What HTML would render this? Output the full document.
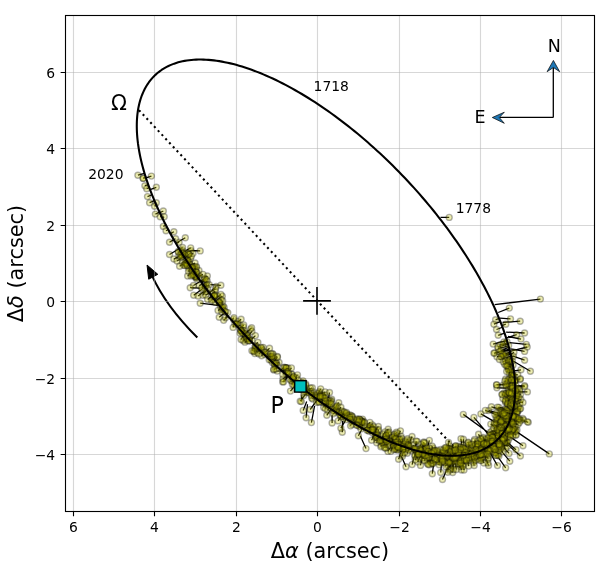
<!DOCTYPE html><html><head><meta charset="utf-8"><style>html,body{margin:0;padding:0;background:#fff}svg{display:block}</style></head><body><svg width="600" height="570" viewBox="0 0 600 570">
<rect width="600" height="570" fill="#fff"/>
<path d="M197.3,337.6 Q165.7,306 151.9,275.4" fill="none" stroke="#000" stroke-width="2.08"/>
<path d="M147.05,265.05 L157.8,274.3 L148.7,279.2 Z" fill="#000" stroke="#000" stroke-width="1" stroke-linejoin="miter"/>
<path d="M73.5,15.5V511.5M154.5,15.5V511.5M236.5,15.5V511.5M317.5,15.5V511.5M399.5,15.5V511.5M480.5,15.5V511.5M561.5,15.5V511.5" stroke="#b0b0b0" stroke-opacity=".5" stroke-width="1.11" fill="none"/>
<path d="M65.5,72.5H594.5M65.5,148.5H594.5M65.5,225.5H594.5M65.5,301.5H594.5M65.5,378.5H594.5M65.5,454.5H594.5" stroke="#b0b0b0" stroke-opacity=".5" stroke-width="1.11" fill="none"/>
<path d="M139.0,110.2 L455.8,448.8" stroke="#000" stroke-width="2.08" stroke-dasharray="2.08 3.44" fill="none"/>
<path d="M493.17,344.07L506.88,340.26M506.48,362.21L512.14,360.88M506.47,357.86L511.1,356.01M503.96,342.06L507.04,340.76M504.32,356.27L510.59,353.79M511.92,376.33L514.44,375.87M508.31,366.55L513.05,365.77M512.17,376.97L514.49,376.32M511.82,373.83L514.36,375.17M508.62,369.59L513.67,369.71M502.67,354.23L510.17,352.09M512.11,375.35L514.37,375.18M494.6,353.01L509.66,350.05M498.2,348.57L508.55,345.94M507.25,366.19L512.78,364.26M509.29,368.91L513.63,369.47M510.58,372.34L514.09,372.84M500.18,344.72L507.73,343.07M509.26,373.35L513.99,372.08M496.92,356.71L510.65,354.07M497.86,346.94L508.02,344.07M510.36,360.79L511.68,358.64M512.12,372.19L514.1,372.92M504.63,364.27L512.14,360.88M510.64,369.84L513.55,368.88M501.68,354.26L510.27,352.47M508.63,345.41L508.41,345.45M498.88,351.82L509.8,350.59M512.76,376.59L514.59,377.36M505.45,360.87L511.72,358.82M513.04,365.06L512.7,363.81M507.65,365.58L512.89,364.86M503.14,361.75L511.63,358.4M506.95,341.71L507.51,342.32M508.34,369.67L513.58,369.14M510.2,359.14L511.57,358.11M506.07,354.02L510.51,353.47M513.98,352.3L510.76,354.51M499.43,359.49L511.23,356.55M511.93,374.98L514.09,372.8M513.63,375.8L514.3,374.63M506.64,371.45L513.78,370.48M513.4,356.44L511.27,356.73M508.63,361.33L512.4,362.19M512.29,361.07L511.99,360.13M503.35,354.74L510.73,354.39M502.85,344.98L507.73,343.09M506.12,365.68L512.68,363.67M517.73,374.75L514.34,374.92M500.81,350.57L508.87,347.09M516.02,398.74L514.77,398.64M512.65,394.04L515.06,394.25M507.75,413.25L511.99,414.16M506.17,409.05L512.98,410.3M510.42,384.99L515.1,385.49M511.01,398.37L514.71,399.3M520.54,394.4L515.12,392.59M508.88,402.64L514.22,403.48M516.44,404.97L513.94,405.32M518.67,407.62L513.74,406.53M515.83,397.98L514.87,397.5M515.01,410.8L512.63,411.76M509.73,378.25L514.64,377.95M508.28,403.12L514.11,404.25M517.89,411.59L513.04,410.02M508.5,398.98L514.75,398.89M505.37,402.16L514.22,403.5M512.76,396.43L514.9,397.03M511.47,409.48L513.05,409.96M504.07,392.85L515.08,393.81M515.14,380.93L514.88,380.93M509.02,412.38L512.38,412.73M507.16,409.69L512.83,410.91M511.44,392.79L515.12,392.76M510.98,396.56L515.01,395.24M505.71,379.05L514.75,379.19M502.29,394.28L515.02,395.03M504.84,408.92L512.78,411.14M503.24,385.04L515.06,384.36M510.49,410.1L513.08,409.84M515.74,394.16L515.1,393.27M511.6,395.3L515.02,395.07M513.18,391.75L515.16,391.02M510.84,403.88L513.83,405.97M512.67,394.75L515.01,395.25M513.03,383.88L515.11,385.6M512.7,414.29L511.98,414.2M506.23,386.05L515.15,387.17M514.72,408.87L513.34,408.62M508.33,395.57L514.94,396.39M513.42,411.76L512.47,412.37M512.25,385.55L515.12,386.12M509.28,410.69L512.57,411.99M513.33,390.76L515.16,390.51M519.9,408.96L513.54,407.59M511.43,392.83L515.08,393.88M512.66,405.89L513.67,406.9M517.34,411.14L512.92,410.52M511.68,406.78L513.81,406.09M520.85,399.53L514.8,398.32M508.69,413.31L511.78,414.88M499.07,407.39L512.99,410.22M506.34,393.22L515.12,392.53M508.8,394.31L515.1,393.33M513.66,412.99L512.48,412.36M519.79,391.09L515.16,391.05M505.51,394.83L515.01,395.33M511.82,407.79L513.37,408.48M513,401.25L514.53,401.09M505.61,393.77L515.11,393M505.86,401.62L514.41,402.07M511.63,389.89L515.13,392.14M508.44,399.99L514.51,401.22M508.74,389.53L515.16,390.39M496.86,387.8L515.16,388.14M519.6,389.61L515.17,389.09M516.86,414.36L512.46,412.43M517.92,407.25L513.73,406.59M511.93,401.82L514.32,402.73M512.3,413.25L512.15,413.61M510.28,395.88L515,395.5M510.14,386.19L515.13,386.28M517.7,397.75L514.9,397.05M497.54,407.11L513.02,410.1M507.64,404.15L514.04,404.68M514.8,381.32L514.91,381.46M515.15,380.05L514.83,380.29M508.92,392.28L515.08,393.77M510.04,406.81L513.63,407.13M516.1,398.34L514.82,398.03M514.8,381.21L514.96,382.29M510.63,405.06L514.11,404.28M516.11,389.53L515.17,389.66M510.72,392.41L515.13,392.18M507.33,384.12L515.08,384.86M509.63,393.29L515.12,392.49M516.91,412L512.73,411.33M519.04,397.32L514.82,398.07M515.52,400.73L514.48,401.45M512.89,387.54L515.16,387.93M507.96,380.91L514.92,381.64M520.6,408.59L513.85,405.88M516.9,395.59L515.01,395.23M515.83,385.1L515.11,385.58M511.35,394.18L515.02,395.11M511.59,404.17L514.06,404.6M517.28,393.5L515.12,392.62M512.27,399.88L514.71,399.32M512.24,380.06L514.83,380.26M509.05,392.44L515.14,391.8M502.86,398.58L514.63,400.15M505.18,400.29L514.44,401.84M507.8,379.92L514.73,379M511.52,379.9L514.78,379.62M507.52,403.8L514.07,404.49M518.01,388.76L515.17,389.55M511.94,385.71L515.1,385.49M507.69,411L512.37,412.77M506.38,410L512.69,411.49M519.95,403.4L514.08,404.48M512.23,388.35L515.13,386.54M510.74,406.07L513.85,405.87M501.66,410.91L512.13,413.68M505.83,384.73L515.09,385.03M504.92,380.96L514.74,379.08M511.11,402.95L514.35,402.53M511.57,393.07L515.11,393.09M512.98,404.5L513.85,405.89M515.55,390.71L515.15,391.54M514.41,405.72L514.03,404.79M511.73,416.75L510.92,417.59M508.84,430.93L505.57,429.22M500.23,438.47L499.42,437.52M507.53,417.95L510.38,419.1M510.93,422.87L508.7,423.23M510.28,420.12L510.08,419.91M503.4,414L511.41,416.11M514.19,419.81L510.6,418.5M496.12,432.07L500.58,436.2M498.81,441.4L497.16,439.85M493.88,433.79L498.79,438.2M505.09,433.74L503.41,432.53M505.58,442.45L499.04,437.93M507.66,431.16L505.2,429.83M489.91,432.45L496.41,440.56M506.83,442.51L500.12,436.73M505.93,426.6L506.53,427.55M504.36,426.05L506.81,427.06M518.06,424.49L509.48,421.41M505.06,443.42L499.47,437.46M507.82,446.22L498.6,438.41M488.7,410.47L510.92,417.58M499.6,432.15L502.3,434.05M503.74,419.09L509.41,421.58M511.76,424.39L508.67,423.29M514.73,417.54L511.39,416.17M509.04,453.38L497.01,439.99M507.06,419.46L509.74,420.78M505.75,441.77L500.37,436.45M507.08,442.25L500.77,435.97M504.87,427.27L506.02,428.46M516.7,417.4L511.35,416.3M507.9,429.38L506.09,428.35M514.53,430.92L507,426.7M500.54,414.74L510.82,417.89M509.05,416.32L510.96,417.46M515.93,426.93L508.48,423.72M502.84,412.25L511.73,415.05M493.97,424.45L503.87,431.87M513.45,417.5L511.1,417.07M508.33,440.35L501.91,434.56M498.28,437.14L499.14,437.82M512.34,427.91L507.78,425.17M504.8,428.66L505.34,429.6M506.41,413.4L511.65,415.32M508.79,416.9L510.62,418.46M495.78,435.95L497.85,439.17M504.65,442.32L499.59,437.33M502.27,416.14L510.56,418.62M511.26,420.52L510.02,420.07M514.55,416.52L511.83,414.72M500.86,434.11L502.03,434.4M509.57,419.84L510.07,419.94M515.64,435.1L505.31,429.64M510.85,417.18L511.14,416.93M497.47,436.04L500.09,436.77M500.94,443.63L496.53,440.45M495.36,433.01L499.69,437.22M501.29,443.87L497.32,439.7M528.31,422.37L511,417.34M512.07,418.07L510.96,417.47M516.22,434.93L505.98,428.52M491.67,431.11L499.11,437.86M503.6,431.2L504.29,431.26M513.4,418.32L510.79,417.98M508.59,427.51L507.37,425.98M508.93,421.72L509.33,421.79M490.8,424.15L503.1,432.97M511.35,423.68L508.62,423.41M496.96,418.07L508.73,423.17M504.23,433.16L503.83,431.94M505.04,436.8L501.88,434.6M500.28,411.19L511.54,415.68M505.73,423.57L507.45,425.83M504.68,433.56L503.76,432.04M502.62,413.89L511.17,416.85M500.8,422.67L507.09,426.53M506.42,415.96L510.96,417.48M503.72,437.54L500.84,435.89M497.79,433.63L500.88,435.84M515.54,421.5L510.28,419.38M500.48,435.32L501.29,435.34M504.25,414.63L511.15,416.9M502.3,418.75L509.37,421.67M496.67,435.25L499.89,437M497.78,433.67L500.61,436.16M512.75,418.37L510.73,418.13M507.6,421.47L509.38,421.66M504.15,432.31L503.2,432.84M503.92,424.51L506.76,427.13M499.74,430.22L503.69,432.14M505.16,426.47L506.08,428.36M497.59,428.26L503.72,432.1M498.99,415.37L510.17,419.68M512.4,420.14L510.16,419.71M497.33,419.47L507.69,425.35M501.08,412.99L511.32,416.39M504.45,437.5L501.4,435.21M501.28,437.49L500.18,436.66M494.55,422.38L506.6,427.43M496.8,421.5L506.8,427.06M513.08,416.93L511.4,416.14M514.81,429.39L507.72,425.29M508.77,433.45L504.53,430.89M503.67,422.13L507.96,424.81M496.02,433.26L500.47,436.33M497.53,429.45L502.81,433.37M517.77,420.61L510.33,419.25M522.73,418.41L511.61,415.46M506.75,428.59L506.61,427.41M508.44,421.61L509.51,421.35M498.15,418.92L508.53,423.59M520.98,420.26L510.98,417.41M495.86,424.84L504.94,430.24M507.06,424.89L507.76,425.21M495.29,436.32L497.8,439.22M517.02,430.1L507.65,425.44M498.73,430.2L502.76,433.44M503.44,440.69L500.12,436.73M496.94,439.98L496.74,440.25M507.3,416.56L510.83,417.87M499.94,427.18L504.87,430.36M515.77,431.13L506.92,426.84M496.31,412.69L510.87,417.74M497.38,441.32L496.17,440.78M499.89,419.53L508.38,423.92M502.35,441.41L499.41,437.53M503.44,424.05L507.11,426.49M507.09,415.64L511.24,416.61M501.8,435.03L501.92,434.55M501.74,420.88L507.97,424.79M495.08,433.44L499.25,437.71M499.72,435.61L500.2,436.64M504.42,442.28L499.31,437.64M503.02,435.59L501.26,435.38M517.72,418.45L511.56,415.62M509.16,430.37L506.23,428.1M493.23,433.49L497.81,439.21M503.42,415.84L510.59,418.54M493.42,436.39L496.7,440.29M509.41,435.13L504.07,431.58M515.69,417.17L511.76,414.94M507.66,425.55L507.77,425.19M523.47,419.73L511.41,416.08M501.47,420.44L508.35,424M499.37,431.88L502.29,434.08M504.03,433.61L503.05,433.04M505.71,448.8L497.78,439.24M504.9,432.84L503.3,432.69M505.47,434.45L503.11,432.97M513.2,428.82L507.23,426.26M501.92,434.05L501.87,434.61M505.16,426.27L506.82,427.03M503.84,416.03L510.88,417.71M495.52,438.32L497,440M513.05,435.4L504.33,431.2M504.4,438.06L501.45,435.14M514.41,427.56L508.3,424.1M506.55,433.36L503.86,431.89M506.15,418.55L510.13,419.77M502.74,433.75L502.92,433.23M500.99,434.17L501.93,434.54M511.03,430.42L506.07,428.37M513.15,429.11L507.72,425.3M496.76,436.25L498.78,438.21M496.07,417.62L507.81,425.11M509.52,428.04L506.74,427.18M511.57,421.88L510.28,419.39M507.12,437.14L502.86,433.31M494.87,414.52L509.58,421.17M505.34,415.54L510.99,417.39M500.69,422.46L507.48,425.77M504.16,438.29L500.52,436.27M498.98,433.34L501.2,435.46M503.07,413.94L511.01,417.31M512.56,415.73L511.48,415.86M503.11,440.33L499.48,437.45M508.14,430.58L505.88,428.71M502.29,430.91L504.11,431.52M513.34,416.56L511.55,415.65M519.4,422.38L510.14,419.76M503.17,438L500.86,435.86M513.04,423.91L509.16,422.18M504.38,412.79L512.05,413.93M494.56,438.26L495.99,440.95M497.18,429.43L503.24,432.78M501.79,439.9L499.85,437.05M507.74,428.12L506.18,428.19M512.14,430.51L506.49,427.63M496.68,438.19L498.03,438.99M492.78,434.52L498.24,438.77M519.11,418.71L511.07,417.15M493.7,428.08L502.21,434.17M502.55,433.6L503.36,432.61M507.48,429.97L506.03,428.45M510.5,437.09L503.57,432.31M510.56,434.78L504.41,431.08M496.85,436.58L498.17,438.85M500.97,427.54L504.81,430.45M509.07,429.29L506.08,428.36M460.94,456.17L460.21,455.41M463.11,445.08L465.41,454.77M456.08,458.53L457.44,455.62M447.01,455.97L447.76,455.72M457.31,456.3L456.91,455.65M471.1,458.24L468.84,454.15M481.43,460.28L477.64,451.72M494.84,441.57L495.53,441.35M472.16,459.05L470.26,453.85M492.81,451.99L488.65,446.48M485.45,439.38L489.55,445.9M449.61,456.54L450.74,455.79M458.12,446.11L458.71,455.54M487.64,446.01L487.94,446.91M453.29,465.54L453.94,455.77M477.51,458.93L474.61,452.71M454.08,457.95L453.62,455.77M459.62,447.2L460.77,455.36M492.94,438.9L494.41,442.32M492.24,440.71L493.37,443.16M450.32,448.62L451.2,455.79M488.19,459.01L483.27,449.41M459.53,452.29L459.19,455.5M491.43,437.27L495.41,441.46M460.53,463.84L459.82,455.45M449.12,470.13L450.02,455.78M498.8,447.93L494.05,442.62M492.83,446.18L491.75,444.39M487.54,444.86L488.14,446.79M491.2,438.38L494.39,442.33M493.73,449.26L490.82,445.05M459.21,457.23L459.43,455.48M474.85,445.13L477.63,451.73M489.95,446.78L488.95,446.28M483.92,462.99L478.55,451.39M498.41,454.2L490.91,444.99M465.21,457.32L464.07,454.97M481,458.41L478.18,451.53M464.82,453.07L464.8,454.86M460.35,460.48L461.05,455.33M460.02,464.55L458.85,455.53M499.25,443.52L496.8,440.19M462.98,453.07L463.31,455.07M449.28,450.26L448.35,455.74M447.93,450.91L447.73,455.72M462.33,451.48L464.21,454.95M451.35,455.91L452.11,455.79M482.23,445.22L484.03,449.04M470.03,444.32L470.89,453.7M490.52,442.66L491.42,444.63M452.69,472.46L451.71,455.79M470.26,451.54L471.06,453.66M499.19,444.83L496.09,440.85M493.35,442.86L493.55,443.02M474.57,439.45L479.57,451.01M483.13,449.9L482.95,449.56M466.08,450.98L466.79,454.54M468.11,442.11L470.01,453.9M457.19,451.25L456.42,455.68M447.07,452.53L447.3,455.7M492.38,436.19L496.17,440.78M467.66,455.59L466.92,454.52M450.84,468.96L449.78,455.77M446.69,462.23L447.8,455.72M465.83,460.02L465.49,454.76M488.69,455.38L485.44,448.32M451.01,458.35L450.08,455.78M482.89,438.46L488.27,446.71M453.63,469.56L452.72,455.79M500.03,448.95L494.58,442.18M449.7,459.47L450.47,455.78M482.43,454.4L481.39,450.26M448.25,461.32L447.62,455.71M447.46,456.72L446.36,455.65M490.63,439.11L493.56,443.01M477.43,451.53L477.27,451.86M488.38,446.65L488.41,446.62M448.78,451.7L447.51,455.71M490.82,435.53L496.21,440.74M494.8,449.08L491.88,444.3M470.15,450.81L470.59,453.77M496.2,446.58L493.63,442.96M475.39,456.33L475.13,452.55M452.16,459.51L451.36,455.79M485.87,446.81L486.34,447.83M477.9,450.25L478.1,451.56M477.47,444.57L480.16,450.77M448.14,461.34L448.72,455.75M449.03,448.59L448.89,455.75M481.12,457.71L479.52,451.02M482.59,448.47L483.5,449.3M478.71,449.19L479.62,450.99M462.87,456.59L462.68,455.15M483.01,442.44L486.32,447.84M501.49,447.85L495.65,441.25M492.8,443.36L493.44,443.11M481.62,443.09L484.3,448.9M457.81,453.47L458.03,455.59M454.18,457.3L453.96,455.77M491.61,443.55L492.11,444.12M463.38,439.24L464.98,454.84M448.91,448.63L448.32,455.74M490.88,434.46L496.41,440.56M489.76,440.09L493.27,443.24M449.2,458.41L449.18,455.76M452.3,462.11L452.31,455.79M493,440.98L493.49,443.07M487.58,449.55L486.61,447.68M492.58,447.34L490.95,444.96M465.21,449.55L466.63,454.57M464.79,460.02L463.47,455.05M478.58,445.51L480.33,450.7M455.45,445.85L455.31,455.73M496.05,455.41L490.3,445.41M495.75,448.11L493.36,443.17M475.42,444.88L478.45,451.43M462.59,453.51L462.14,455.22M496.4,444.57L494.64,442.13M484.04,453.01L481.97,450M472.56,455.69L472.71,453.24M480.33,452.12L480.49,450.64M501.38,446.92L495.76,441.15M491.91,437.06L495.94,440.99M465.02,455.74L464.09,454.97M495.32,441.51L495.83,441.09M456.66,454.12L458.09,455.58M485.67,445.69L487.22,447.34M483.13,449.75L483.59,449.25M460.13,466.58L459.9,455.44M472.54,456.46L470.86,453.71M491.02,441.72L492.33,443.96M495.38,450.18L491.44,444.61M469.71,453.34L469.55,454M464.87,455.8L464.71,454.88M460.25,461.79L460.07,455.43M474.06,460.96L472.3,453.35M457.37,463.77L456.37,455.68M474.45,450.3L474.65,452.7M450.24,452.57L449.01,455.76M472.33,451.92L472.59,453.27M500.39,444.72L496.02,440.92M462.07,465.17L461.53,455.28M497.76,455.02L490.78,445.08M455.09,453.11L455.35,455.73M497.34,441.59L496.53,440.45M488.56,452.17L485.56,448.25M494.01,448.6L490.82,445.05M449.52,445.8L448.04,455.73M494.76,442.85L494.18,442.51M455.26,447L455.35,455.73M448.38,462.33L449.07,455.76M498.96,456.08L490.15,445.51M475.82,460.33L474.35,452.78M465.18,457.63L463.81,455.01M485.75,452.63L483.92,449.09M487.65,446.29L487.22,447.33M453.15,459.48L452.47,455.79M464.59,463.75L462.41,455.18M446.8,465.03L447.53,455.71M492.48,437.49L496.14,440.81M466.87,461.71L464.74,454.87M449.02,461.57L450.09,455.78M482.02,442.98L485.77,448.14M452.74,456.46L453.02,455.78M474.96,446L477.05,451.93M472.22,455.21L472.54,453.29M467.04,458.21L465.59,454.74M447.88,457.13L448.44,455.74M455.62,455.73L454.59,455.75M460.97,438.8L463.53,455.04M450.01,449.07L449.74,455.77M489.74,441.76L491.69,444.43M488.9,438.71L493.11,443.37M483.18,437.48L488.87,446.34M476.8,451.69L476.41,452.15M491.16,448.54L489.02,446.24M484.64,454.44L481.7,450.12M496.79,441.23L495.6,441.3M488.07,458.2L483.31,449.39M488.58,465.41L482.28,449.87M488.73,450.1L486.9,447.52M453.52,460.94L454.23,455.76M490.31,439.42L493.16,443.33M486.45,453.79L483.87,449.12M474.28,440.96L477.87,451.64M491.81,447.64L489.58,445.88M490.53,443.88L492.27,444M465.93,454.56L466.42,454.61M455.88,449.1L456.55,455.67M456.65,461.14L455.7,455.71M447.31,460.4L447.33,455.7M468.67,453.88L468.24,454.27M484.78,446.27L487.05,447.43M445.83,466.64L445.22,455.59M479.79,450.85L479.45,451.05M502.6,451.8L495,441.82M485.29,445.19L488.09,446.82M447.28,456.22L446.05,455.64M472.5,455.86L471.83,453.47M461.46,469.99L458.54,455.55M486.68,444.73L487.51,447.16M483.07,453.89L481.15,450.36M465.01,448.98L465.78,454.71M468.13,447.76L469.41,454.03M489.2,435.2L494.98,441.83M446.97,451.8L447.86,455.72M456.8,452.52L457.16,455.64M478.56,434.3L485.19,448.45M477.33,444.25L480.33,450.7M458.19,449.05L458.96,455.52M472.18,457.28L471.76,453.49M448.73,458.19L448.91,455.75M468.49,454.37L469.23,454.07M452.51,456.65L452.54,455.79M447.83,472.18L448.19,455.73M494.24,440.36L494.71,442.07M478.59,445.78L481.28,450.31M474.02,458.28L473.68,452.98M496.5,446.41L493.22,443.28M491.25,441.45L492.48,443.85M490.58,441.6L492.6,443.76M446.43,455.98L446.22,455.65M462.19,455.9L461.35,455.3M482.7,456.88L480.53,450.62M448.35,450.61L446.75,455.67M461.87,450.53L463.03,455.11M451.45,452.57L451.95,455.79M498.3,445.1L494.86,441.94M495.25,452.47L490.9,445M487.91,438.07L492.04,444.18M468.57,444.9L469.81,453.94M473.52,462.71L472.25,453.36M469.24,459.97L468.07,454.3M447.13,453.42L448.32,455.74M463.99,470.12L461.79,455.25M455.89,445.89L456.04,455.7M480.46,454.93L479.42,451.06M492.18,446.06L491.75,444.39M460.99,447.47L462.35,455.19M485.63,447.69L485.89,448.08M451.37,449.91L450.32,455.78M493.51,446.16L491.96,444.23M464.47,459.39L463.75,455.01M466.66,449.58L468.34,454.25M459.42,463.71L459.55,455.47M452.19,457.21L452.51,455.79M486.7,444.56L489.08,446.21M453.39,453.76L451.88,455.79M458.59,453.19L458.78,455.53M463.08,466.3L461.74,455.26M481.36,439.72L486.07,447.98M492.57,437.44L495.08,441.75M474.79,451.62L474.84,452.64M468.7,466.07L467.63,454.39M457.28,456.19L457.16,455.64M481.6,444.57L483.25,449.42M486.87,443.05L488.2,446.75M449.21,461.74L450,455.78M464.42,448.89L466.11,454.66M494.77,452.96L489.83,445.72M471.59,448.18L473.68,452.98M448.5,442.47L447.84,455.72M448.05,448.68L448.93,455.75M458.79,454.83L456.91,455.65M463.09,447.73L463.72,455.02M492.33,441.39L494.53,442.22M476.6,456.01L475.26,452.51M483.76,453.83L482.38,449.82M480.29,449.1L480.18,450.76M465.03,452.26L464.72,454.88M479.23,450.67L479.56,451.01M476.75,447.2L478.07,451.57M493.37,446.21L492.33,443.96M456.55,456.31L457.43,455.62M454.12,450.45L455.09,455.73M478.63,440.72L481.91,450.03M471.8,453.87L471.32,453.6M460.76,459.97L461.07,455.33M481.03,448.49L482.72,449.67M499.17,446.28L495.29,441.57M481.35,441.61L485.15,448.47M480.67,438.63L485.68,448.19M465.78,455.69L465.98,454.68M464.63,460.37L463.94,454.99M452.94,458.3L451.95,455.79M463.48,455.68L463.23,455.08M468.27,442.99L470.48,453.79M480.32,460.46L477.65,451.72M477.68,443.85L480.49,450.64M496,455.4L490.35,445.37M505.66,467.86L489.94,445.65M468.66,457.81L469.73,453.96M447.3,456.73L448.44,455.74M449.57,451.63L450.25,455.78M490.79,448.43L489.51,445.93M472.03,444.34L475.4,452.47M498.81,450.61L492.94,443.5M458.45,452.98L458.73,455.54M474.19,465.56L471.65,453.52M478.23,451.51L479.05,451.21M476.04,449.69L477.28,451.85M460.3,449.54L460.86,455.35M479.89,455.12L478.48,451.42M449.2,463.03L449.22,455.76M454.51,458.28L454.12,455.76M455.4,450.13L455,455.74M493.76,448.32L491.36,444.67M488.07,450.92L486.97,447.48M481.29,450.3L481.53,450.2M499.35,444.09L496.33,440.63M447.32,455.54L447.21,455.69M490.05,450.63L487.89,446.94M483.73,443.83L486.32,447.84M494.96,449.38L491.7,444.43M456.34,469.55L454.18,455.76M460.69,463.07L459.55,455.47M487.57,454.18L484.45,448.83M455.65,457.4L455.73,455.71M481.04,454.54L478.9,451.27M466.53,460.26L464.65,454.89M376.42,434.29L375.4,434.95M425.96,453.04L426.79,453.1M424.33,452.5L425.11,452.75M426.23,446.69L424.89,452.7M423.65,453.25L423.31,452.35M442.76,455.14L442.8,455.42M439.31,461.2L439.78,455.13M400.04,442.13L399.23,445.14M419.64,449.32L418.01,451.06M388.15,429.29L384.08,438.98M414.97,450.11L415.47,450.38M393.51,445.41L393.09,442.78M376.69,442.77L378.88,436.61M421.09,454.64L422.18,452.09M388.94,434.73L386.13,439.88M440.62,456.33L441.29,455.28M440.13,456.4L440.82,455.24M396.42,432.09L391.95,442.32M417.3,441.56L414.09,449.99M422.47,446.81L421.31,451.89M392.89,435.27L389.65,441.38M400.13,445.64L401.04,445.79M419.92,458.23L421.05,451.82M422.69,449.48L421.9,452.03M395.56,444.86L393.26,442.85M443.66,453.01L442.77,455.42M440.5,457.44L440.05,455.16M377.92,434.84L378.22,436.3M436.76,451.81L434.9,454.52M412.1,448.74L413.08,449.7M419.43,458.65L420.58,451.71M416.79,452.16L417.46,450.91M402.1,447.81L403.82,446.76M412.04,436.43L407.61,448.02M402.51,456.23L403.49,446.65M394.48,446.3L394.46,443.32M421.11,449.74L419.84,451.53M386.11,447.82L388.87,441.05M401.49,443.75L401.05,445.8M387.71,439.21L386.66,440.11M441.87,462.41L441.54,455.31M408.74,442.78L406.51,447.67M433.05,448.03L432.9,454.21M399.65,440.14L398.16,444.74M394.63,445.83L396.51,444.12M382.56,435.9L382.51,438.28M402.2,446.66L401.8,446.06M398.31,448.85L399,445.05M394.64,434.14L390.58,441.76M411.58,450.5L411.65,449.28M444.49,456.8L445.3,455.6M445.81,457.51L446.33,455.65M431.91,463.76L432.85,454.2M408.51,446.03L410.15,448.83M439.39,454.13L438.21,454.95M386.36,436.48L383.21,438.6M424.55,455.05L423.99,452.5M437.33,454.25L436.64,454.76M378.23,430.73L374.53,434.53M422.18,448.83L418.75,451.25M396.98,448.13L399.09,445.08M436.95,451.48L436.78,454.78M432.06,463.25L432.69,454.18M432.89,451.96L431.28,453.94M424.78,460.01L426.53,453.05M436.24,461.91L436.61,454.75M401.76,442.72L400.74,445.68M376.67,439.85L378.8,436.57M399.15,447.64L400.94,445.76M398.03,444.85L398.17,444.74M432.24,446.12L431.73,454.02M396.56,438.3L394.22,443.23M375.66,437.26L376.76,435.61M381.37,445.43L384.47,439.15M444.54,452.18L444.31,455.53M376.67,436.86L376.25,435.37M387.94,451.42L393.44,442.92M398.01,449.88L399.92,445.39M401.02,436.29L396.8,444.23M439.84,457.64L439.96,455.15M440.7,462.5L441.94,455.34M434.71,452.81L435.87,454.65M409.24,446.36L408.49,448.31M387.5,440.39L388.07,440.72M445.34,449.97L444.22,455.53M429.33,440.41L426.23,452.98M392.42,437.54L388.37,440.84M384.98,431.83L382.76,438.39M427.68,451.91L426.41,453.02M434.01,450.17L433.37,454.29M426.34,450.68L426.29,453M403.28,448.74L405.24,447.25M442.04,453.07L441.97,455.35M438.8,461.56L440.31,455.19M375.32,435.85L377.88,436.14M424.46,455.6L426.22,452.98M397.05,449.91L398.48,444.86M437.33,455.89L438.03,454.93M400.89,444.48L398.24,444.77M403.69,444.77L403.16,446.54M446.18,448.59L446.44,455.66M406.79,440.22L405.04,447.18M385.49,447.69L389.36,441.26M433.21,452.31L431.56,453.99M427.43,451.69L426.53,453.05M435.29,450.59L432.98,454.22M414.98,456.14L416.9,450.77M440.74,449.52L440.25,455.18M390.94,451.33L394.08,443.17M402.63,448.22L404.33,446.94M427.46,454.7L429.59,453.64M423.02,458.04L422.31,452.12M395.5,443.86L395.54,443.74M405.38,442.72L404.88,447.13M396.79,446.43L396.29,444.03M401.8,438.52L398.97,445.04M417.72,454.32L417.46,450.92M395.03,447.72L397.36,444.44M443.44,458.82L443.79,455.49M420.57,444.41L419.4,451.42M394.17,436.6L392.68,442.62M404.54,448.24L405.68,447.39M430.41,460.64L433.86,454.36M399.85,448.25L401.36,445.91M399.98,439.26L398.07,444.71M445.73,455.11L445.68,455.62M407.31,453.19L409.16,448.52M425.25,450.7L425.18,452.76M397.16,433.41L394.76,443.44M444.22,451.52L444.35,455.53M383.24,444.04L385.56,439.63M393.88,449.77L396.95,444.28M423.65,454.76L423.08,452.3M428.72,457.4L431.03,453.9M414.95,455.14L415.7,450.44M439.55,457.87L439.59,455.11M383.51,434L382.13,438.11M381.73,442.36L383.07,438.53M423.62,455.24L425.42,452.81M427.43,463.44L430.3,453.77M437.39,450.21L437.62,454.88M383.38,441.28L384.28,439.07M441.49,458.46L441.52,455.31M378.32,426.52L373.78,434.16M427.79,451.64L427.6,453.26M394.93,448.99L397.57,444.52M385.01,438.57L385.38,439.56M444.87,462.44L445.5,455.61M417.83,461.99L421.69,451.97M435.48,459.8L435.05,454.54M386.26,435.59L384.2,439.04M419.66,448.44L419.67,451.48M421.83,453.05L421.53,451.94M432.05,457.27L433.11,454.24M400.45,430.82L394.56,443.36M397.53,442.13L397.22,444.39M376.19,437.51L377.22,435.83M418.32,451.42L419.72,451.49M397.45,446.08L399.65,445.29M390,445.83L392.81,442.67M398.38,444.5L397.88,444.63M377.1,435.17L376.54,435.51M429.07,456.89L429.31,453.59M405.72,448.8L406.81,447.77M442.57,456.44L441.94,455.34M416.82,451.44L417.09,450.82M395.61,438.71L393.89,443.1M425.56,451.61L424.64,452.65M439.1,464.86L439.24,455.07M403.57,446.45L403.27,446.58M404.51,448.8L403.38,446.62M378.5,429.52L376.45,435.46M380.81,446.69L384.39,439.12M410.86,440.22L408.79,448.4M376.04,432.35L375.39,434.95M415.2,459.97L418.17,451.1M433.38,450.87L433.26,454.27M419.86,449.37L420.47,451.68M388.76,442.13L390.66,441.8M402.34,454.36L406.62,447.7M441.95,459.51L441.39,455.29M423.88,441.88L422.61,452.19M397.82,446.57L399.63,445.28M428.18,454.78L427.98,453.34M384.87,439.46L385.01,439.39M442.6,461.22L443.42,455.47M425.42,448.94L423.27,452.34M413.43,444.73L411.86,449.34M429.08,447.85L427.45,453.23M426.51,447.93L425.48,452.83M395.64,442.35L395.92,443.89M405.45,441.55L403.44,446.64M382.96,442.43L386.25,439.93M414.94,449.16L414.9,450.22M403,449.09L403.73,446.73M436.12,459.64L435.77,454.64M429.4,464.68L431.74,454.02M388.98,431.95L386.14,439.88M404.43,452.67L405.33,447.28M420.67,450.74L420.12,451.59M408.42,444.96L408.16,448.2M385.51,439.66L386.76,440.15M398.05,447.46L397.67,444.56M393.46,445.06L392.24,442.44M428.29,451.44L427.51,453.24M389.61,441.28L390.07,441.55M434.69,458.9L435.62,454.62M415.91,448.88L415.64,450.42M426.95,457.86L426.36,453.01M414.16,448.58L415.42,450.37M380.88,440.28L382.57,438.31M442.82,450.17L443.59,455.48M432.8,463.75L435.18,454.56M431.5,453.12L432.56,454.16M387.61,444.36L388.67,440.97M424.26,460.87L426.23,452.98M425.29,455.79L426.71,453.08M416.2,441.08L414.1,449.99M424.82,443.03L423.39,452.37M423.75,442.67L421.21,451.86M418.39,454.82L420.62,451.72M444.77,448.03L443.28,455.46M422.86,453.74L423.96,452.5M445.99,447.35L445.37,455.6M386.28,439.35L384.62,439.22M379.49,440.74L380.55,437.39M386.05,435.67L384.85,439.32M418.62,453.95L419.12,451.34M386.63,441.23L387.61,440.52M408.53,450.18L411.2,449.14M361.61,421.97L359.54,426.71M371.16,428.01L370.68,432.62M346.38,419.64L345.67,418.6M361.85,422.2L359.66,426.78M341.18,416.83L341.66,416.1M331.69,399.27L325.44,405.32M318.29,397.38L316.07,398.59M326.35,402.29L324.77,404.85M314.82,395.18L312.28,395.77M352.22,416.14L351.53,422.13M361.93,422.02L357.97,425.83M334.37,407.91L333.51,410.82M352.24,424.43L352.9,422.92M323.62,402.55L323.72,404.11M324.81,398.58L319.8,401.32M339.63,412.96L337.65,413.54M373.54,429.69L373.42,433.99M353.64,420.23L352.69,422.81M362.55,419.09L358.17,425.94M329.33,400.15L325.85,405.6M319.78,393.15L316.9,399.2M323.67,407.42L324.71,404.81M327.74,410.43L329.12,407.86M336.33,406.9L334.89,411.73M331.41,400.72L327.03,406.42M370.6,427.35L368.45,431.48M317.75,393.26L315.87,398.45M322.94,395.9L320.23,401.62M341.79,411.54L339.2,414.53M312.6,399.09L314.83,397.68M368.89,431.32L369.45,431.99M372.64,433.06L372.53,433.55M322.37,402.52L321.74,402.71M363.83,421.48L361.02,427.53M361.91,421.38L360.21,427.08M314.99,396.33L314.97,397.78M322.41,395.29L320.09,401.52M338.67,412.04L337.22,413.26M372.75,428.89L373.58,434.06M334.69,412.27L334.08,411.2M333.28,410.5L330.46,408.77M360.91,428.96L360.73,427.36M347.58,415.24L345.92,418.75M359.62,424.82L359.12,426.47M351.7,415.84L350.09,421.27M345.3,413.49L343,416.94M360.25,420.01L356.14,424.8M315.77,394.86L312.21,395.72M317.2,397.74L315.89,398.46M368.99,426.97L364.99,429.67M312.99,391.63L312.71,396.09M325.26,402.45L323.5,403.95M356.6,420.05L355.15,424.23M348.42,415.01L344.96,418.16M328.37,404.77L327.72,406.9M361.55,424.9L360.54,427.26M341.03,416.62L341.46,415.97M320.96,395.04L318.46,400.34M330.72,401.74L327.24,406.57M311.67,398.12L312.4,395.86M342.57,411.18L339.19,414.53M346.43,413.65L343.4,417.19M319.47,391.51L315.9,398.47M343.27,418.29L343.1,417.01M350.12,415.03L346.79,419.28M372.43,424.87L368.26,431.38M310.43,392.61L309.03,393.3M359.31,426.4L358.52,426.14M361.68,420.86L357.62,425.64M366.97,426.18L364.61,429.47M369.93,422.42L364.97,429.65M308.38,391.65L308.06,392.56M320.65,388.83L315.37,398.07M344.37,416.85L346.12,418.87M345.24,416.19L343.31,417.14M353.95,419.51L353.29,423.15M329.97,407.6L330.55,408.83M320.19,395.57L316.23,398.71M338.72,402.73L332.92,410.43M322.56,397.2L319.88,401.37M359.1,419.04L356.01,424.72M334.19,408.86L331.51,409.48M311.49,395.5L311.52,395.2M316.55,402.42L316.68,399.04M324.01,397.81L321.87,402.8M364.94,427.24L365.79,430.09M311.33,392.03L309.55,393.7M350.58,425.85L351.55,422.14M362.09,422L358.68,426.23M347.28,415.94L345.68,418.61M357.58,420.23L356.3,424.89M325.12,391.9L319.58,401.15M370.04,426L368.68,431.6M357.18,424.99L357.19,425.39M320.69,396.79L318.62,400.46M356.9,418.87L353.62,423.35M325.12,394.91L321.64,402.63M359.46,419.47L358.92,426.36M336.66,410.35L336.04,412.49M371.04,430.45L368.78,431.65M320.12,398.56L319.41,401.03M373.64,426.69L372.54,433.55M358.53,421.73L355.97,424.7M319.36,401.67L319.65,401.21M352.03,417.11L348.22,420.15M349.78,417.26L347.17,419.52M312.29,387.68L306.56,391.39M344.25,411.85L341.11,415.75M327.7,400.81L324.78,404.85M335.86,406.77L332.29,410.01M372.68,429.43L370.63,432.59M325.37,401.4L323.97,404.29M349.95,419.34L350.37,421.43M325.3,408.79L325.47,405.34M337.14,405.63L333.44,410.78M322.21,396.22L320.76,402.01M367.93,430.1L366.82,430.63M308.7,392.89L307.86,392.4M329.54,403.45L326.61,406.14M331.31,403.87L329.28,407.97M318.84,402.32L319.09,400.8M324.77,398.1L321.14,402.27M320.19,396.51L318.35,400.27M372.03,430.05L370.31,432.43M356.61,425.37L356.64,425.08M346.47,412.54L345.2,418.31M333.27,413.76L335.71,412.27M339.78,414.86L339.65,414.82M366.89,430.29L366.86,430.65M364.6,422.71L360.85,427.43M271.5,357.14L268.82,358.99M305.97,387.75L305.32,390.43M267.27,353.31L264.02,354.4M279.1,362.49L274.76,364.52M261.63,355.74L263.5,353.9M242.19,330.23L242.13,332M306.65,390.96L306.25,391.15M288.06,368.01L283.62,372.45M304.98,387.9L303.4,388.92M240.12,325.4L237.21,326.6M245.74,339.51L246.38,336.55M257.89,342.37L254.75,345.23M242.66,333.04L243.92,333.93M291.61,374.42L290.09,378.02M270.97,360.21L269.67,359.8M253.44,351.28L257.06,347.55M269.33,356.62L267.41,357.66M300.73,389.35L300.63,386.71M299.66,387.05L298.42,384.93M245.53,333.76L244.74,334.8M255.45,345.6L253.92,344.38M246.69,335.65L246.74,336.93M282.66,381.88L288.1,376.33M276.55,363.07L274.79,364.54M295.25,381.83L293.5,380.89M289.71,379.13L290.42,378.31M265.82,352.09L263.36,353.76M272.33,353.48L269.14,359.29M243.46,327.06L240.54,330.27M284.24,367.13L280.87,370.03M292.17,374.52L289.41,377.45M302.22,383.11L299.4,385.73M233.57,319.42L232.16,320.91M310.34,388.03L307.19,391.88M243.05,340.62L248,338.26M249.14,338.44L249.17,339.48M244.7,333.34L244.26,334.29M296.04,383.7L297.99,384.58M277.38,356.32L270.44,360.52M270.73,356.9L267.82,358.04M262.1,349.38L260.11,350.58M269.16,359.66L269.32,359.47M292.73,378.23L292.09,379.71M273.24,354.35L267.33,357.58M285.92,367.58L282.1,371.12M251.94,331.39L247.16,337.38M292.32,381.16L291.24,379M257.48,352.89L259.62,350.1M263.21,347.37L259.48,349.96M302.98,382.53L299.74,386M254.84,353.62L257.63,348.12M274.99,363.13L274.66,364.42M273.04,358.25L271.66,361.65M248.53,338.56L247.98,338.23M303.1,384.66L301.28,387.23M285.66,367.7L282.41,371.39M246.1,336.94L245.27,335.37M272.3,362.42L270.95,360.99M243.36,333.6L243.24,333.2M301.5,386.94L301.99,387.8M300.4,384.38L301,387.01M244.25,330.74L242.15,332.02M274.91,365.36L273.72,363.56M296.29,377.52L295.2,382.3M283.76,367.76L283.26,372.14M303.1,380.83L299.84,386.08M244.87,342.15L249.39,339.71M286.44,368L284.61,373.32M277.19,365.36L277.17,366.71M237.54,323.66L235.01,324.14M247.91,340.65L249.4,339.73M246.9,338.38L248.83,339.12M252.05,340.34L251.33,341.72M297.91,379.73L296.95,383.73M256.44,346.47L257.04,347.53M249.12,341.03L249.23,339.55M237.78,321.5L233.15,322.03M234.81,324.09L234.31,323.35M264.71,354.44L265.18,355.52M236.13,324.01L234.32,323.36M290.97,380.65L291.45,379.18M286.95,371.95L285.37,373.98M239.87,328.86L239.2,328.8M295.01,383.54L295.32,382.4M273.68,370.09L277.56,367.06M260.99,348.15L257.03,347.52M293.27,376.58L291.77,379.44M292.34,384.31L294.32,381.57M241.01,339.54L244.36,334.4M286.34,373.38L287.03,375.41M282.97,378.91L287.49,375.81M257.93,348.02L259.88,350.35M305.72,383.94L303.04,388.64M293.87,385.58L295.58,382.61M243.71,324.91L239.1,328.69M299.99,383.85L299.63,385.92M277.23,371.11L281.8,370.85M255.01,347.21L256.58,347.07M272.73,356.28L269.89,360M233.09,327.39L234.55,323.62M288.17,371.66L284.89,373.56M270.9,353.64L266.67,356.95M233.97,317.71L231.3,319.92M293.18,378.88L292.43,380M240.89,331.01L241.25,331.04M275.9,363.26L275.94,365.59M255.45,348.64L257.55,348.04M249.53,340.59L250.24,340.6M288.39,373.54L287.77,376.05M300,388.92L301.78,387.63M247.75,335.59L245.93,336.07M261.33,347.56L258.93,349.42M306.59,392.62L305.75,390.77M277.48,357.25L272.76,362.67M254.09,351.47L258.17,348.66M274.3,363.92L274.01,363.82M275.59,369.04L277.45,366.97M264.56,352.29L261.5,351.95M250.48,329.2L243.81,333.81M241.87,332.08L240.03,329.72M305.74,385.24L303.83,389.26M273.76,369.25L277.24,366.78M301.94,387.98L302.12,387.91M303.63,395.43L308.14,392.62M240.16,333.17L240.9,330.67M301.81,382.93L300.6,386.69M293.42,377.04L290.14,378.07M240.83,330.62L240.65,330.39M282.77,374.43L284.08,372.86M304.05,391.77L305.23,390.36M188.65,263.16L188.82,264.16M202.65,295.32L206.83,289.71M196.21,277.33L197.63,277.08M222.31,307.5L221.59,308.46M182.7,252.82L181.75,253.08M196.11,267.31L193.33,270.89M188.97,268.7L191.72,268.51M222.03,309.39L221.63,308.51M205.65,295.15L209.05,292.65M192.82,275.51L196.37,275.29M223.67,320.34L228.17,316.3M187.65,276.06L193.85,271.65M222.3,296.13L215.71,301.2M212.56,299.7L212.83,297.55M189.83,264.26L191.12,267.62M207.64,299.54L211.72,296.12M194.24,274.8L194.7,272.89M193.42,285.54L200.6,281.26M195.51,277.5L196.21,275.06M187.55,262.27L188.01,262.91M194.96,268.72L194.3,272.3M196.72,279L197.59,277.02M219.43,302.25L219.05,305.36M202.26,289.52L202.97,284.51M205.63,285.75L203.79,285.64M186.91,265.45L189.05,264.5M199.28,285.57L202.39,283.72M184.63,263.73L187.36,261.93M223.14,305.88L220.47,307.1M207.2,281L203.31,284.98M218.03,310.41L221.2,307.99M209.21,284.8L204.86,287.08M219.22,317.31L224.94,312.48M220.25,305.93L220.68,307.36M214.43,295.56L211.86,296.3M191.63,268.65L191.13,267.64M179,255.76L181.23,252.23M199.47,276.72L197.84,277.38M221.79,311.85L223.97,311.33M195.03,263.06L189.66,265.43M190.55,268.31L190.52,266.72M222.71,300.91L218.15,304.25M222.3,307.69L220.15,306.7M204.98,278.76L201.72,282.8M196.54,277.1L198.11,277.76M181.91,249.6L180.52,251.08M198.76,274.94L196.52,275.5M215.13,291.3L211.13,295.36M211.29,292.92L210.04,293.94M184.23,251.9L182.19,253.78M178.23,251.39L180.37,250.82M190.98,250.65L182.65,254.52M206.76,284.74L203.51,285.26M186.2,259.39L187.02,261.4M192.97,253.38L185.94,259.72M225.5,317.78L227.12,315.07M207.63,288.96L205.16,287.48M215.3,302.27L214.72,299.95M194.31,266.84L191.03,267.49M198.96,270.51L195,273.31M192.61,267.77L191.14,267.65M224.17,307.38L220.83,307.54M182.4,262.54L186.34,260.35M196.04,275.84L196.26,275.12M214.8,296.73L212.2,296.74M219.63,303.14L218.57,304.77M217.18,295.73L214.29,299.41M189.21,261.89L188.46,263.61M196.54,266.72L191.74,268.54M187.74,253.11L183.77,256.32M183.76,265.25L187.25,261.75M190.45,258.51L187.92,262.78M188.76,254.39L184.5,257.48M182.6,256.6L182.98,255.05M195.25,276.35L196.69,275.75M211.56,300.64L212.65,297.31M214.62,295.15L213.58,298.51M184.68,265.57L188.75,264.05M191.87,268.78L192.02,268.95M221.21,299.65L218.53,304.71M204.44,278.92L200.9,281.66M216.16,286.46L209.39,293.09M207.34,275.93L200.72,281.41M215.54,289.08L208.95,292.52M214.11,296.04L213.09,297.87M188.45,271.34L192.11,269.09M180.62,251.04L180.81,251.55M196.76,272.38L194.81,273.04M227.77,312.61L226.78,314.66M192.03,274.65L194.46,272.53M186.02,263.37L188.33,263.41M192.24,267.16L190.79,267.13M206.01,291.47L206.42,289.17M196.11,271.94L194.25,272.22M192.2,271.19L192.78,270.08M206.18,279.44L201.85,282.98M182.57,253.02L182.28,253.94M202.95,274.33L197.69,277.17M182.07,255.77L183.13,255.29M178.49,252.22L180.52,251.07M224.32,310.97L223.41,310.66M187.12,264.97L188.69,263.95M180.77,254.86L181.6,252.83M218.93,301.96L218.27,304.39M225.65,311.86L224.23,311.64M201.69,287.97L204.64,286.78M193.51,274.58L195.42,273.92M180.54,257.5L183.46,255.82M173.84,259.05L182.61,254.47M188.78,254.09L184.99,258.24M449.2,217.4L440.5,217.4M540.4,299.1L494.7,304.6M509.3,308.1L498.2,312.5M510.5,318.9L500,318.1M520.2,321.2L502.6,322.5M495.6,319.8L499.09,318.44M493.9,324.2L500.39,321.72M505.8,324.2L501.89,325.63M496.5,329.5L502.49,327.25M524.6,333L506.1,332.1M516.7,334.7L506.17,337.97M498.2,335.3L504.6,333.2M521,339.1L507.9,336.5M526.3,344.4L509.6,342.6M527.2,347L509.98,351.33M524.6,351.4L510.5,348.8M493.9,353.2L509.43,349.19M500.9,356.7L510.72,354.36M524.6,360.2L512.3,355.8M530.4,371.2L513.2,361M521,369.8L513.82,370.77M520.2,379.5L514.81,379.95M524.6,385.6L515.12,385.84M496.5,384.7L515.04,383.86M463.3,414.4L487.9,432.3M473.9,417.4L494.84,441.96M480.9,413.9L506.06,428.4M485.3,410.4L510.09,419.89M491.4,406.8L507.2,411.2M496.7,384.9L515.05,384.12M501.9,394.6L515.01,395.33M520.4,378.8L514.75,379.27M524.7,386.7L515.14,386.9M527.4,391.9L515.14,391.68M523,402.5L514.47,401.53M527.4,421.8L511.27,416.54M523,445.8L503.58,432.3M520.4,456L499.6,437.32M516,449.8L500.38,436.44M509.8,461.2L494.24,442.46M497.5,465.6L487.02,447.45M487.9,463L482.07,449.96M549.3,453.9L507.5,425.5M398.6,459.3L403.06,446.5M406,466.8L400.4,454M412.1,464.6L415.94,450.51M420.5,465.4L423.4,452.37M428.1,464.6L430.11,453.74M432.3,473.7L435.02,454.53M440.7,472.5L442.18,455.37M442.5,479.5L448.6,465.4M407.4,438.8L404.57,447.02M388.1,433L385.21,439.48M301.4,401.6L301.9,394.6M303.2,410.4L306.7,401.6M306.1,417.7L307.5,404.2M311.4,422.6L314.6,406M310.2,409.5L317.38,399.55M329.5,392.5L328.6,398M326.8,415.3L330.91,409.08M332.1,423L332.1,414.7M340.9,407.2L337.01,413.12M338.2,420.9L341.3,415.87M342.3,432.3L342.6,420.9M340.9,428.2L346.39,419.04M358.4,435.8L362.38,428.27M366,448.6L360.2,435.8M384.7,448.1L387.87,440.63M371.6,440.2L374.45,434.49M251.9,350.7L256.01,346.49M258.9,353.9L261.1,351.56M269.5,348.2L263.74,354.13M291.4,367.9L285.82,374.37M297.5,374.9L292.94,380.43M283.5,381.9L288.24,376.45M290.5,391.1L296.69,383.52M300.2,401.2L307.33,391.99M200.2,250.9L190.2,250.5M190.7,247.9L181.89,253.3M177,261L183.94,256.58M179.6,266.3L187.04,261.42M191,276L195.02,273.34M190.2,287.7L199.8,288.2M220.9,285.3L210.4,284.7M193.7,295.3L204.86,287.08M198.1,296.1L206.77,289.64M200.2,303.2L218.2,305.3M220.9,294.4L214.36,299.49M241.1,319.3L235.25,324.41M251.6,327.7L244.36,334.4M255.4,335.6L250.22,340.57M137.9,175.2L144.52,173.27M143.2,178.2L145.78,177.35M143.2,178.4L145.84,177.51M151.4,176.1L145.94,177.83M144.9,185.7L148.19,184.53M146.7,188.7L149.34,187.75M156.3,187.3L150.06,189.7M147.5,196.6L152.01,194.76M149.6,202.7L154.43,200.69M156.3,202.7L155.42,203.01M154.6,206.2L156.43,205.34M163.3,211L159.78,212.72M155.4,214.1L159.54,212.21M160.2,216.8L161.47,216.26M164.2,216.8L162.2,217.78M163.3,226.4L165.87,225.09M166,230.8L168.2,229.53M173.9,231.7L170.42,233.65M169.5,242.2L173.78,239.66M175.6,238.7L173.78,239.66M185.3,237.8L175.87,243.28M179.1,242.2L176.17,243.8M182.6,247.5L179.46,249.32M169.5,254.5L179.14,248.81M184.4,254.5L183.18,255.37M191.4,256.2L185.92,259.7M187.9,260.6L186.92,261.25" stroke="#000" stroke-width="1.3" fill="none"/>
<g fill="#bfbf00" fill-opacity=".3" stroke="#000" stroke-opacity=".3" stroke-width="1.39"><circle cx="493.17" cy="344.07" r="3.0"/><circle cx="506.48" cy="362.21" r="3.0"/><circle cx="506.47" cy="357.86" r="3.0"/><circle cx="503.96" cy="342.06" r="3.0"/><circle cx="504.32" cy="356.27" r="3.0"/><circle cx="511.92" cy="376.33" r="3.0"/><circle cx="508.31" cy="366.55" r="3.0"/><circle cx="512.17" cy="376.97" r="3.0"/><circle cx="511.82" cy="373.83" r="3.0"/><circle cx="508.62" cy="369.59" r="3.0"/><circle cx="502.67" cy="354.23" r="3.0"/><circle cx="512.11" cy="375.35" r="3.0"/><circle cx="494.6" cy="353.01" r="3.0"/><circle cx="498.2" cy="348.57" r="3.0"/><circle cx="507.25" cy="366.19" r="3.0"/><circle cx="509.29" cy="368.91" r="3.0"/><circle cx="510.58" cy="372.34" r="3.0"/><circle cx="500.18" cy="344.72" r="3.0"/><circle cx="509.26" cy="373.35" r="3.0"/><circle cx="496.92" cy="356.71" r="3.0"/><circle cx="497.86" cy="346.94" r="3.0"/><circle cx="510.36" cy="360.79" r="3.0"/><circle cx="512.12" cy="372.19" r="3.0"/><circle cx="504.63" cy="364.27" r="3.0"/><circle cx="510.64" cy="369.84" r="3.0"/><circle cx="501.68" cy="354.26" r="3.0"/><circle cx="508.63" cy="345.41" r="3.0"/><circle cx="498.88" cy="351.82" r="3.0"/><circle cx="512.76" cy="376.59" r="3.0"/><circle cx="505.45" cy="360.87" r="3.0"/><circle cx="513.04" cy="365.06" r="3.0"/><circle cx="507.65" cy="365.58" r="3.0"/><circle cx="503.14" cy="361.75" r="3.0"/><circle cx="506.95" cy="341.71" r="3.0"/><circle cx="508.34" cy="369.67" r="3.0"/><circle cx="510.2" cy="359.14" r="3.0"/><circle cx="506.07" cy="354.02" r="3.0"/><circle cx="513.98" cy="352.3" r="3.0"/><circle cx="499.43" cy="359.49" r="3.0"/><circle cx="511.93" cy="374.98" r="3.0"/><circle cx="513.63" cy="375.8" r="3.0"/><circle cx="506.64" cy="371.45" r="3.0"/><circle cx="513.4" cy="356.44" r="3.0"/><circle cx="508.63" cy="361.33" r="3.0"/><circle cx="512.29" cy="361.07" r="3.0"/><circle cx="503.35" cy="354.74" r="3.0"/><circle cx="502.85" cy="344.98" r="3.0"/><circle cx="506.12" cy="365.68" r="3.0"/><circle cx="517.73" cy="374.75" r="3.0"/><circle cx="500.81" cy="350.57" r="3.0"/><circle cx="516.02" cy="398.74" r="3.0"/><circle cx="512.65" cy="394.04" r="3.0"/><circle cx="507.75" cy="413.25" r="3.0"/><circle cx="506.17" cy="409.05" r="3.0"/><circle cx="510.42" cy="384.99" r="3.0"/><circle cx="511.01" cy="398.37" r="3.0"/><circle cx="520.54" cy="394.4" r="3.0"/><circle cx="508.88" cy="402.64" r="3.0"/><circle cx="516.44" cy="404.97" r="3.0"/><circle cx="518.67" cy="407.62" r="3.0"/><circle cx="515.83" cy="397.98" r="3.0"/><circle cx="515.01" cy="410.8" r="3.0"/><circle cx="509.73" cy="378.25" r="3.0"/><circle cx="508.28" cy="403.12" r="3.0"/><circle cx="517.89" cy="411.59" r="3.0"/><circle cx="508.5" cy="398.98" r="3.0"/><circle cx="505.37" cy="402.16" r="3.0"/><circle cx="512.76" cy="396.43" r="3.0"/><circle cx="511.47" cy="409.48" r="3.0"/><circle cx="504.07" cy="392.85" r="3.0"/><circle cx="515.14" cy="380.93" r="3.0"/><circle cx="509.02" cy="412.38" r="3.0"/><circle cx="507.16" cy="409.69" r="3.0"/><circle cx="511.44" cy="392.79" r="3.0"/><circle cx="510.98" cy="396.56" r="3.0"/><circle cx="505.71" cy="379.05" r="3.0"/><circle cx="502.29" cy="394.28" r="3.0"/><circle cx="504.84" cy="408.92" r="3.0"/><circle cx="503.24" cy="385.04" r="3.0"/><circle cx="510.49" cy="410.1" r="3.0"/><circle cx="515.74" cy="394.16" r="3.0"/><circle cx="511.6" cy="395.3" r="3.0"/><circle cx="513.18" cy="391.75" r="3.0"/><circle cx="510.84" cy="403.88" r="3.0"/><circle cx="512.67" cy="394.75" r="3.0"/><circle cx="513.03" cy="383.88" r="3.0"/><circle cx="512.7" cy="414.29" r="3.0"/><circle cx="506.23" cy="386.05" r="3.0"/><circle cx="514.72" cy="408.87" r="3.0"/><circle cx="508.33" cy="395.57" r="3.0"/><circle cx="513.42" cy="411.76" r="3.0"/><circle cx="512.25" cy="385.55" r="3.0"/><circle cx="509.28" cy="410.69" r="3.0"/><circle cx="513.33" cy="390.76" r="3.0"/><circle cx="519.9" cy="408.96" r="3.0"/><circle cx="511.43" cy="392.83" r="3.0"/><circle cx="512.66" cy="405.89" r="3.0"/><circle cx="517.34" cy="411.14" r="3.0"/><circle cx="511.68" cy="406.78" r="3.0"/><circle cx="520.85" cy="399.53" r="3.0"/><circle cx="508.69" cy="413.31" r="3.0"/><circle cx="499.07" cy="407.39" r="3.0"/><circle cx="506.34" cy="393.22" r="3.0"/><circle cx="508.8" cy="394.31" r="3.0"/><circle cx="513.66" cy="412.99" r="3.0"/><circle cx="519.79" cy="391.09" r="3.0"/><circle cx="505.51" cy="394.83" r="3.0"/><circle cx="511.82" cy="407.79" r="3.0"/><circle cx="513" cy="401.25" r="3.0"/><circle cx="505.61" cy="393.77" r="3.0"/><circle cx="505.86" cy="401.62" r="3.0"/><circle cx="511.63" cy="389.89" r="3.0"/><circle cx="508.44" cy="399.99" r="3.0"/><circle cx="508.74" cy="389.53" r="3.0"/><circle cx="496.86" cy="387.8" r="3.0"/><circle cx="519.6" cy="389.61" r="3.0"/><circle cx="516.86" cy="414.36" r="3.0"/><circle cx="517.92" cy="407.25" r="3.0"/><circle cx="511.93" cy="401.82" r="3.0"/><circle cx="512.3" cy="413.25" r="3.0"/><circle cx="510.28" cy="395.88" r="3.0"/><circle cx="510.14" cy="386.19" r="3.0"/><circle cx="517.7" cy="397.75" r="3.0"/><circle cx="497.54" cy="407.11" r="3.0"/><circle cx="507.64" cy="404.15" r="3.0"/><circle cx="514.8" cy="381.32" r="3.0"/><circle cx="515.15" cy="380.05" r="3.0"/><circle cx="508.92" cy="392.28" r="3.0"/><circle cx="510.04" cy="406.81" r="3.0"/><circle cx="516.1" cy="398.34" r="3.0"/><circle cx="514.8" cy="381.21" r="3.0"/><circle cx="510.63" cy="405.06" r="3.0"/><circle cx="516.11" cy="389.53" r="3.0"/><circle cx="510.72" cy="392.41" r="3.0"/><circle cx="507.33" cy="384.12" r="3.0"/><circle cx="509.63" cy="393.29" r="3.0"/><circle cx="516.91" cy="412" r="3.0"/><circle cx="519.04" cy="397.32" r="3.0"/><circle cx="515.52" cy="400.73" r="3.0"/><circle cx="512.89" cy="387.54" r="3.0"/><circle cx="507.96" cy="380.91" r="3.0"/><circle cx="520.6" cy="408.59" r="3.0"/><circle cx="516.9" cy="395.59" r="3.0"/><circle cx="515.83" cy="385.1" r="3.0"/><circle cx="511.35" cy="394.18" r="3.0"/><circle cx="511.59" cy="404.17" r="3.0"/><circle cx="517.28" cy="393.5" r="3.0"/><circle cx="512.27" cy="399.88" r="3.0"/><circle cx="512.24" cy="380.06" r="3.0"/><circle cx="509.05" cy="392.44" r="3.0"/><circle cx="502.86" cy="398.58" r="3.0"/><circle cx="505.18" cy="400.29" r="3.0"/><circle cx="507.8" cy="379.92" r="3.0"/><circle cx="511.52" cy="379.9" r="3.0"/><circle cx="507.52" cy="403.8" r="3.0"/><circle cx="518.01" cy="388.76" r="3.0"/><circle cx="511.94" cy="385.71" r="3.0"/><circle cx="507.69" cy="411" r="3.0"/><circle cx="506.38" cy="410" r="3.0"/><circle cx="519.95" cy="403.4" r="3.0"/><circle cx="512.23" cy="388.35" r="3.0"/><circle cx="510.74" cy="406.07" r="3.0"/><circle cx="501.66" cy="410.91" r="3.0"/><circle cx="505.83" cy="384.73" r="3.0"/><circle cx="504.92" cy="380.96" r="3.0"/><circle cx="511.11" cy="402.95" r="3.0"/><circle cx="511.57" cy="393.07" r="3.0"/><circle cx="512.98" cy="404.5" r="3.0"/><circle cx="515.55" cy="390.71" r="3.0"/><circle cx="514.41" cy="405.72" r="3.0"/><circle cx="511.73" cy="416.75" r="3.0"/><circle cx="508.84" cy="430.93" r="3.0"/><circle cx="500.23" cy="438.47" r="3.0"/><circle cx="507.53" cy="417.95" r="3.0"/><circle cx="510.93" cy="422.87" r="3.0"/><circle cx="510.28" cy="420.12" r="3.0"/><circle cx="503.4" cy="414" r="3.0"/><circle cx="514.19" cy="419.81" r="3.0"/><circle cx="496.12" cy="432.07" r="3.0"/><circle cx="498.81" cy="441.4" r="3.0"/><circle cx="493.88" cy="433.79" r="3.0"/><circle cx="505.09" cy="433.74" r="3.0"/><circle cx="505.58" cy="442.45" r="3.0"/><circle cx="507.66" cy="431.16" r="3.0"/><circle cx="489.91" cy="432.45" r="3.0"/><circle cx="506.83" cy="442.51" r="3.0"/><circle cx="505.93" cy="426.6" r="3.0"/><circle cx="504.36" cy="426.05" r="3.0"/><circle cx="518.06" cy="424.49" r="3.0"/><circle cx="505.06" cy="443.42" r="3.0"/><circle cx="507.82" cy="446.22" r="3.0"/><circle cx="488.7" cy="410.47" r="3.0"/><circle cx="499.6" cy="432.15" r="3.0"/><circle cx="503.74" cy="419.09" r="3.0"/><circle cx="511.76" cy="424.39" r="3.0"/><circle cx="514.73" cy="417.54" r="3.0"/><circle cx="509.04" cy="453.38" r="3.0"/><circle cx="507.06" cy="419.46" r="3.0"/><circle cx="505.75" cy="441.77" r="3.0"/><circle cx="507.08" cy="442.25" r="3.0"/><circle cx="504.87" cy="427.27" r="3.0"/><circle cx="516.7" cy="417.4" r="3.0"/><circle cx="507.9" cy="429.38" r="3.0"/><circle cx="514.53" cy="430.92" r="3.0"/><circle cx="500.54" cy="414.74" r="3.0"/><circle cx="509.05" cy="416.32" r="3.0"/><circle cx="515.93" cy="426.93" r="3.0"/><circle cx="502.84" cy="412.25" r="3.0"/><circle cx="493.97" cy="424.45" r="3.0"/><circle cx="513.45" cy="417.5" r="3.0"/><circle cx="508.33" cy="440.35" r="3.0"/><circle cx="498.28" cy="437.14" r="3.0"/><circle cx="512.34" cy="427.91" r="3.0"/><circle cx="504.8" cy="428.66" r="3.0"/><circle cx="506.41" cy="413.4" r="3.0"/><circle cx="508.79" cy="416.9" r="3.0"/><circle cx="495.78" cy="435.95" r="3.0"/><circle cx="504.65" cy="442.32" r="3.0"/><circle cx="502.27" cy="416.14" r="3.0"/><circle cx="511.26" cy="420.52" r="3.0"/><circle cx="514.55" cy="416.52" r="3.0"/><circle cx="500.86" cy="434.11" r="3.0"/><circle cx="509.57" cy="419.84" r="3.0"/><circle cx="515.64" cy="435.1" r="3.0"/><circle cx="510.85" cy="417.18" r="3.0"/><circle cx="497.47" cy="436.04" r="3.0"/><circle cx="500.94" cy="443.63" r="3.0"/><circle cx="495.36" cy="433.01" r="3.0"/><circle cx="501.29" cy="443.87" r="3.0"/><circle cx="528.31" cy="422.37" r="3.0"/><circle cx="512.07" cy="418.07" r="3.0"/><circle cx="516.22" cy="434.93" r="3.0"/><circle cx="491.67" cy="431.11" r="3.0"/><circle cx="503.6" cy="431.2" r="3.0"/><circle cx="513.4" cy="418.32" r="3.0"/><circle cx="508.59" cy="427.51" r="3.0"/><circle cx="508.93" cy="421.72" r="3.0"/><circle cx="490.8" cy="424.15" r="3.0"/><circle cx="511.35" cy="423.68" r="3.0"/><circle cx="496.96" cy="418.07" r="3.0"/><circle cx="504.23" cy="433.16" r="3.0"/><circle cx="505.04" cy="436.8" r="3.0"/><circle cx="500.28" cy="411.19" r="3.0"/><circle cx="505.73" cy="423.57" r="3.0"/><circle cx="504.68" cy="433.56" r="3.0"/><circle cx="502.62" cy="413.89" r="3.0"/><circle cx="500.8" cy="422.67" r="3.0"/><circle cx="506.42" cy="415.96" r="3.0"/><circle cx="503.72" cy="437.54" r="3.0"/><circle cx="497.79" cy="433.63" r="3.0"/><circle cx="515.54" cy="421.5" r="3.0"/><circle cx="500.48" cy="435.32" r="3.0"/><circle cx="504.25" cy="414.63" r="3.0"/><circle cx="502.3" cy="418.75" r="3.0"/><circle cx="496.67" cy="435.25" r="3.0"/><circle cx="497.78" cy="433.67" r="3.0"/><circle cx="512.75" cy="418.37" r="3.0"/><circle cx="507.6" cy="421.47" r="3.0"/><circle cx="504.15" cy="432.31" r="3.0"/><circle cx="503.92" cy="424.51" r="3.0"/><circle cx="499.74" cy="430.22" r="3.0"/><circle cx="505.16" cy="426.47" r="3.0"/><circle cx="497.59" cy="428.26" r="3.0"/><circle cx="498.99" cy="415.37" r="3.0"/><circle cx="512.4" cy="420.14" r="3.0"/><circle cx="497.33" cy="419.47" r="3.0"/><circle cx="501.08" cy="412.99" r="3.0"/><circle cx="504.45" cy="437.5" r="3.0"/><circle cx="501.28" cy="437.49" r="3.0"/><circle cx="494.55" cy="422.38" r="3.0"/><circle cx="496.8" cy="421.5" r="3.0"/><circle cx="513.08" cy="416.93" r="3.0"/><circle cx="514.81" cy="429.39" r="3.0"/><circle cx="508.77" cy="433.45" r="3.0"/><circle cx="503.67" cy="422.13" r="3.0"/><circle cx="496.02" cy="433.26" r="3.0"/><circle cx="497.53" cy="429.45" r="3.0"/><circle cx="517.77" cy="420.61" r="3.0"/><circle cx="522.73" cy="418.41" r="3.0"/><circle cx="506.75" cy="428.59" r="3.0"/><circle cx="508.44" cy="421.61" r="3.0"/><circle cx="498.15" cy="418.92" r="3.0"/><circle cx="520.98" cy="420.26" r="3.0"/><circle cx="495.86" cy="424.84" r="3.0"/><circle cx="507.06" cy="424.89" r="3.0"/><circle cx="495.29" cy="436.32" r="3.0"/><circle cx="517.02" cy="430.1" r="3.0"/><circle cx="498.73" cy="430.2" r="3.0"/><circle cx="503.44" cy="440.69" r="3.0"/><circle cx="496.94" cy="439.98" r="3.0"/><circle cx="507.3" cy="416.56" r="3.0"/><circle cx="499.94" cy="427.18" r="3.0"/><circle cx="515.77" cy="431.13" r="3.0"/><circle cx="496.31" cy="412.69" r="3.0"/><circle cx="497.38" cy="441.32" r="3.0"/><circle cx="499.89" cy="419.53" r="3.0"/><circle cx="502.35" cy="441.41" r="3.0"/><circle cx="503.44" cy="424.05" r="3.0"/><circle cx="507.09" cy="415.64" r="3.0"/><circle cx="501.8" cy="435.03" r="3.0"/><circle cx="501.74" cy="420.88" r="3.0"/><circle cx="495.08" cy="433.44" r="3.0"/><circle cx="499.72" cy="435.61" r="3.0"/><circle cx="504.42" cy="442.28" r="3.0"/><circle cx="503.02" cy="435.59" r="3.0"/><circle cx="517.72" cy="418.45" r="3.0"/><circle cx="509.16" cy="430.37" r="3.0"/><circle cx="493.23" cy="433.49" r="3.0"/><circle cx="503.42" cy="415.84" r="3.0"/><circle cx="493.42" cy="436.39" r="3.0"/><circle cx="509.41" cy="435.13" r="3.0"/><circle cx="515.69" cy="417.17" r="3.0"/><circle cx="507.66" cy="425.55" r="3.0"/><circle cx="523.47" cy="419.73" r="3.0"/><circle cx="501.47" cy="420.44" r="3.0"/><circle cx="499.37" cy="431.88" r="3.0"/><circle cx="504.03" cy="433.61" r="3.0"/><circle cx="505.71" cy="448.8" r="3.0"/><circle cx="504.9" cy="432.84" r="3.0"/><circle cx="505.47" cy="434.45" r="3.0"/><circle cx="513.2" cy="428.82" r="3.0"/><circle cx="501.92" cy="434.05" r="3.0"/><circle cx="505.16" cy="426.27" r="3.0"/><circle cx="503.84" cy="416.03" r="3.0"/><circle cx="495.52" cy="438.32" r="3.0"/><circle cx="513.05" cy="435.4" r="3.0"/><circle cx="504.4" cy="438.06" r="3.0"/><circle cx="514.41" cy="427.56" r="3.0"/><circle cx="506.55" cy="433.36" r="3.0"/><circle cx="506.15" cy="418.55" r="3.0"/><circle cx="502.74" cy="433.75" r="3.0"/><circle cx="500.99" cy="434.17" r="3.0"/><circle cx="511.03" cy="430.42" r="3.0"/><circle cx="513.15" cy="429.11" r="3.0"/><circle cx="496.76" cy="436.25" r="3.0"/><circle cx="496.07" cy="417.62" r="3.0"/><circle cx="509.52" cy="428.04" r="3.0"/><circle cx="511.57" cy="421.88" r="3.0"/><circle cx="507.12" cy="437.14" r="3.0"/><circle cx="494.87" cy="414.52" r="3.0"/><circle cx="505.34" cy="415.54" r="3.0"/><circle cx="500.69" cy="422.46" r="3.0"/><circle cx="504.16" cy="438.29" r="3.0"/><circle cx="498.98" cy="433.34" r="3.0"/><circle cx="503.07" cy="413.94" r="3.0"/><circle cx="512.56" cy="415.73" r="3.0"/><circle cx="503.11" cy="440.33" r="3.0"/><circle cx="508.14" cy="430.58" r="3.0"/><circle cx="502.29" cy="430.91" r="3.0"/><circle cx="513.34" cy="416.56" r="3.0"/><circle cx="519.4" cy="422.38" r="3.0"/><circle cx="503.17" cy="438" r="3.0"/><circle cx="513.04" cy="423.91" r="3.0"/><circle cx="504.38" cy="412.79" r="3.0"/><circle cx="494.56" cy="438.26" r="3.0"/><circle cx="497.18" cy="429.43" r="3.0"/><circle cx="501.79" cy="439.9" r="3.0"/><circle cx="507.74" cy="428.12" r="3.0"/><circle cx="512.14" cy="430.51" r="3.0"/><circle cx="496.68" cy="438.19" r="3.0"/><circle cx="492.78" cy="434.52" r="3.0"/><circle cx="519.11" cy="418.71" r="3.0"/><circle cx="493.7" cy="428.08" r="3.0"/><circle cx="502.55" cy="433.6" r="3.0"/><circle cx="507.48" cy="429.97" r="3.0"/><circle cx="510.5" cy="437.09" r="3.0"/><circle cx="510.56" cy="434.78" r="3.0"/><circle cx="496.85" cy="436.58" r="3.0"/><circle cx="500.97" cy="427.54" r="3.0"/><circle cx="509.07" cy="429.29" r="3.0"/><circle cx="460.94" cy="456.17" r="3.0"/><circle cx="463.11" cy="445.08" r="3.0"/><circle cx="456.08" cy="458.53" r="3.0"/><circle cx="447.01" cy="455.97" r="3.0"/><circle cx="457.31" cy="456.3" r="3.0"/><circle cx="471.1" cy="458.24" r="3.0"/><circle cx="481.43" cy="460.28" r="3.0"/><circle cx="494.84" cy="441.57" r="3.0"/><circle cx="472.16" cy="459.05" r="3.0"/><circle cx="492.81" cy="451.99" r="3.0"/><circle cx="485.45" cy="439.38" r="3.0"/><circle cx="449.61" cy="456.54" r="3.0"/><circle cx="458.12" cy="446.11" r="3.0"/><circle cx="487.64" cy="446.01" r="3.0"/><circle cx="453.29" cy="465.54" r="3.0"/><circle cx="477.51" cy="458.93" r="3.0"/><circle cx="454.08" cy="457.95" r="3.0"/><circle cx="459.62" cy="447.2" r="3.0"/><circle cx="492.94" cy="438.9" r="3.0"/><circle cx="492.24" cy="440.71" r="3.0"/><circle cx="450.32" cy="448.62" r="3.0"/><circle cx="488.19" cy="459.01" r="3.0"/><circle cx="459.53" cy="452.29" r="3.0"/><circle cx="491.43" cy="437.27" r="3.0"/><circle cx="460.53" cy="463.84" r="3.0"/><circle cx="449.12" cy="470.13" r="3.0"/><circle cx="498.8" cy="447.93" r="3.0"/><circle cx="492.83" cy="446.18" r="3.0"/><circle cx="487.54" cy="444.86" r="3.0"/><circle cx="491.2" cy="438.38" r="3.0"/><circle cx="493.73" cy="449.26" r="3.0"/><circle cx="459.21" cy="457.23" r="3.0"/><circle cx="474.85" cy="445.13" r="3.0"/><circle cx="489.95" cy="446.78" r="3.0"/><circle cx="483.92" cy="462.99" r="3.0"/><circle cx="498.41" cy="454.2" r="3.0"/><circle cx="465.21" cy="457.32" r="3.0"/><circle cx="481" cy="458.41" r="3.0"/><circle cx="464.82" cy="453.07" r="3.0"/><circle cx="460.35" cy="460.48" r="3.0"/><circle cx="460.02" cy="464.55" r="3.0"/><circle cx="499.25" cy="443.52" r="3.0"/><circle cx="462.98" cy="453.07" r="3.0"/><circle cx="449.28" cy="450.26" r="3.0"/><circle cx="447.93" cy="450.91" r="3.0"/><circle cx="462.33" cy="451.48" r="3.0"/><circle cx="451.35" cy="455.91" r="3.0"/><circle cx="482.23" cy="445.22" r="3.0"/><circle cx="470.03" cy="444.32" r="3.0"/><circle cx="490.52" cy="442.66" r="3.0"/><circle cx="452.69" cy="472.46" r="3.0"/><circle cx="470.26" cy="451.54" r="3.0"/><circle cx="499.19" cy="444.83" r="3.0"/><circle cx="493.35" cy="442.86" r="3.0"/><circle cx="474.57" cy="439.45" r="3.0"/><circle cx="483.13" cy="449.9" r="3.0"/><circle cx="466.08" cy="450.98" r="3.0"/><circle cx="468.11" cy="442.11" r="3.0"/><circle cx="457.19" cy="451.25" r="3.0"/><circle cx="447.07" cy="452.53" r="3.0"/><circle cx="492.38" cy="436.19" r="3.0"/><circle cx="467.66" cy="455.59" r="3.0"/><circle cx="450.84" cy="468.96" r="3.0"/><circle cx="446.69" cy="462.23" r="3.0"/><circle cx="465.83" cy="460.02" r="3.0"/><circle cx="488.69" cy="455.38" r="3.0"/><circle cx="451.01" cy="458.35" r="3.0"/><circle cx="482.89" cy="438.46" r="3.0"/><circle cx="453.63" cy="469.56" r="3.0"/><circle cx="500.03" cy="448.95" r="3.0"/><circle cx="449.7" cy="459.47" r="3.0"/><circle cx="482.43" cy="454.4" r="3.0"/><circle cx="448.25" cy="461.32" r="3.0"/><circle cx="447.46" cy="456.72" r="3.0"/><circle cx="490.63" cy="439.11" r="3.0"/><circle cx="477.43" cy="451.53" r="3.0"/><circle cx="488.38" cy="446.65" r="3.0"/><circle cx="448.78" cy="451.7" r="3.0"/><circle cx="490.82" cy="435.53" r="3.0"/><circle cx="494.8" cy="449.08" r="3.0"/><circle cx="470.15" cy="450.81" r="3.0"/><circle cx="496.2" cy="446.58" r="3.0"/><circle cx="475.39" cy="456.33" r="3.0"/><circle cx="452.16" cy="459.51" r="3.0"/><circle cx="485.87" cy="446.81" r="3.0"/><circle cx="477.9" cy="450.25" r="3.0"/><circle cx="477.47" cy="444.57" r="3.0"/><circle cx="448.14" cy="461.34" r="3.0"/><circle cx="449.03" cy="448.59" r="3.0"/><circle cx="481.12" cy="457.71" r="3.0"/><circle cx="482.59" cy="448.47" r="3.0"/><circle cx="478.71" cy="449.19" r="3.0"/><circle cx="462.87" cy="456.59" r="3.0"/><circle cx="483.01" cy="442.44" r="3.0"/><circle cx="501.49" cy="447.85" r="3.0"/><circle cx="492.8" cy="443.36" r="3.0"/><circle cx="481.62" cy="443.09" r="3.0"/><circle cx="457.81" cy="453.47" r="3.0"/><circle cx="454.18" cy="457.3" r="3.0"/><circle cx="491.61" cy="443.55" r="3.0"/><circle cx="463.38" cy="439.24" r="3.0"/><circle cx="448.91" cy="448.63" r="3.0"/><circle cx="490.88" cy="434.46" r="3.0"/><circle cx="489.76" cy="440.09" r="3.0"/><circle cx="449.2" cy="458.41" r="3.0"/><circle cx="452.3" cy="462.11" r="3.0"/><circle cx="493" cy="440.98" r="3.0"/><circle cx="487.58" cy="449.55" r="3.0"/><circle cx="492.58" cy="447.34" r="3.0"/><circle cx="465.21" cy="449.55" r="3.0"/><circle cx="464.79" cy="460.02" r="3.0"/><circle cx="478.58" cy="445.51" r="3.0"/><circle cx="455.45" cy="445.85" r="3.0"/><circle cx="496.05" cy="455.41" r="3.0"/><circle cx="495.75" cy="448.11" r="3.0"/><circle cx="475.42" cy="444.88" r="3.0"/><circle cx="462.59" cy="453.51" r="3.0"/><circle cx="496.4" cy="444.57" r="3.0"/><circle cx="484.04" cy="453.01" r="3.0"/><circle cx="472.56" cy="455.69" r="3.0"/><circle cx="480.33" cy="452.12" r="3.0"/><circle cx="501.38" cy="446.92" r="3.0"/><circle cx="491.91" cy="437.06" r="3.0"/><circle cx="465.02" cy="455.74" r="3.0"/><circle cx="495.32" cy="441.51" r="3.0"/><circle cx="456.66" cy="454.12" r="3.0"/><circle cx="485.67" cy="445.69" r="3.0"/><circle cx="483.13" cy="449.75" r="3.0"/><circle cx="460.13" cy="466.58" r="3.0"/><circle cx="472.54" cy="456.46" r="3.0"/><circle cx="491.02" cy="441.72" r="3.0"/><circle cx="495.38" cy="450.18" r="3.0"/><circle cx="469.71" cy="453.34" r="3.0"/><circle cx="464.87" cy="455.8" r="3.0"/><circle cx="460.25" cy="461.79" r="3.0"/><circle cx="474.06" cy="460.96" r="3.0"/><circle cx="457.37" cy="463.77" r="3.0"/><circle cx="474.45" cy="450.3" r="3.0"/><circle cx="450.24" cy="452.57" r="3.0"/><circle cx="472.33" cy="451.92" r="3.0"/><circle cx="500.39" cy="444.72" r="3.0"/><circle cx="462.07" cy="465.17" r="3.0"/><circle cx="497.76" cy="455.02" r="3.0"/><circle cx="455.09" cy="453.11" r="3.0"/><circle cx="497.34" cy="441.59" r="3.0"/><circle cx="488.56" cy="452.17" r="3.0"/><circle cx="494.01" cy="448.6" r="3.0"/><circle cx="449.52" cy="445.8" r="3.0"/><circle cx="494.76" cy="442.85" r="3.0"/><circle cx="455.26" cy="447" r="3.0"/><circle cx="448.38" cy="462.33" r="3.0"/><circle cx="498.96" cy="456.08" r="3.0"/><circle cx="475.82" cy="460.33" r="3.0"/><circle cx="465.18" cy="457.63" r="3.0"/><circle cx="485.75" cy="452.63" r="3.0"/><circle cx="487.65" cy="446.29" r="3.0"/><circle cx="453.15" cy="459.48" r="3.0"/><circle cx="464.59" cy="463.75" r="3.0"/><circle cx="446.8" cy="465.03" r="3.0"/><circle cx="492.48" cy="437.49" r="3.0"/><circle cx="466.87" cy="461.71" r="3.0"/><circle cx="449.02" cy="461.57" r="3.0"/><circle cx="482.02" cy="442.98" r="3.0"/><circle cx="452.74" cy="456.46" r="3.0"/><circle cx="474.96" cy="446" r="3.0"/><circle cx="472.22" cy="455.21" r="3.0"/><circle cx="467.04" cy="458.21" r="3.0"/><circle cx="447.88" cy="457.13" r="3.0"/><circle cx="455.62" cy="455.73" r="3.0"/><circle cx="460.97" cy="438.8" r="3.0"/><circle cx="450.01" cy="449.07" r="3.0"/><circle cx="489.74" cy="441.76" r="3.0"/><circle cx="488.9" cy="438.71" r="3.0"/><circle cx="483.18" cy="437.48" r="3.0"/><circle cx="476.8" cy="451.69" r="3.0"/><circle cx="491.16" cy="448.54" r="3.0"/><circle cx="484.64" cy="454.44" r="3.0"/><circle cx="496.79" cy="441.23" r="3.0"/><circle cx="488.07" cy="458.2" r="3.0"/><circle cx="488.58" cy="465.41" r="3.0"/><circle cx="488.73" cy="450.1" r="3.0"/><circle cx="453.52" cy="460.94" r="3.0"/><circle cx="490.31" cy="439.42" r="3.0"/><circle cx="486.45" cy="453.79" r="3.0"/><circle cx="474.28" cy="440.96" r="3.0"/><circle cx="491.81" cy="447.64" r="3.0"/><circle cx="490.53" cy="443.88" r="3.0"/><circle cx="465.93" cy="454.56" r="3.0"/><circle cx="455.88" cy="449.1" r="3.0"/><circle cx="456.65" cy="461.14" r="3.0"/><circle cx="447.31" cy="460.4" r="3.0"/><circle cx="468.67" cy="453.88" r="3.0"/><circle cx="484.78" cy="446.27" r="3.0"/><circle cx="445.83" cy="466.64" r="3.0"/><circle cx="479.79" cy="450.85" r="3.0"/><circle cx="502.6" cy="451.8" r="3.0"/><circle cx="485.29" cy="445.19" r="3.0"/><circle cx="447.28" cy="456.22" r="3.0"/><circle cx="472.5" cy="455.86" r="3.0"/><circle cx="461.46" cy="469.99" r="3.0"/><circle cx="486.68" cy="444.73" r="3.0"/><circle cx="483.07" cy="453.89" r="3.0"/><circle cx="465.01" cy="448.98" r="3.0"/><circle cx="468.13" cy="447.76" r="3.0"/><circle cx="489.2" cy="435.2" r="3.0"/><circle cx="446.97" cy="451.8" r="3.0"/><circle cx="456.8" cy="452.52" r="3.0"/><circle cx="478.56" cy="434.3" r="3.0"/><circle cx="477.33" cy="444.25" r="3.0"/><circle cx="458.19" cy="449.05" r="3.0"/><circle cx="472.18" cy="457.28" r="3.0"/><circle cx="448.73" cy="458.19" r="3.0"/><circle cx="468.49" cy="454.37" r="3.0"/><circle cx="452.51" cy="456.65" r="3.0"/><circle cx="447.83" cy="472.18" r="3.0"/><circle cx="494.24" cy="440.36" r="3.0"/><circle cx="478.59" cy="445.78" r="3.0"/><circle cx="474.02" cy="458.28" r="3.0"/><circle cx="496.5" cy="446.41" r="3.0"/><circle cx="491.25" cy="441.45" r="3.0"/><circle cx="490.58" cy="441.6" r="3.0"/><circle cx="446.43" cy="455.98" r="3.0"/><circle cx="462.19" cy="455.9" r="3.0"/><circle cx="482.7" cy="456.88" r="3.0"/><circle cx="448.35" cy="450.61" r="3.0"/><circle cx="461.87" cy="450.53" r="3.0"/><circle cx="451.45" cy="452.57" r="3.0"/><circle cx="498.3" cy="445.1" r="3.0"/><circle cx="495.25" cy="452.47" r="3.0"/><circle cx="487.91" cy="438.07" r="3.0"/><circle cx="468.57" cy="444.9" r="3.0"/><circle cx="473.52" cy="462.71" r="3.0"/><circle cx="469.24" cy="459.97" r="3.0"/><circle cx="447.13" cy="453.42" r="3.0"/><circle cx="463.99" cy="470.12" r="3.0"/><circle cx="455.89" cy="445.89" r="3.0"/><circle cx="480.46" cy="454.93" r="3.0"/><circle cx="492.18" cy="446.06" r="3.0"/><circle cx="460.99" cy="447.47" r="3.0"/><circle cx="485.63" cy="447.69" r="3.0"/><circle cx="451.37" cy="449.91" r="3.0"/><circle cx="493.51" cy="446.16" r="3.0"/><circle cx="464.47" cy="459.39" r="3.0"/><circle cx="466.66" cy="449.58" r="3.0"/><circle cx="459.42" cy="463.71" r="3.0"/><circle cx="452.19" cy="457.21" r="3.0"/><circle cx="486.7" cy="444.56" r="3.0"/><circle cx="453.39" cy="453.76" r="3.0"/><circle cx="458.59" cy="453.19" r="3.0"/><circle cx="463.08" cy="466.3" r="3.0"/><circle cx="481.36" cy="439.72" r="3.0"/><circle cx="492.57" cy="437.44" r="3.0"/><circle cx="474.79" cy="451.62" r="3.0"/><circle cx="468.7" cy="466.07" r="3.0"/><circle cx="457.28" cy="456.19" r="3.0"/><circle cx="481.6" cy="444.57" r="3.0"/><circle cx="486.87" cy="443.05" r="3.0"/><circle cx="449.21" cy="461.74" r="3.0"/><circle cx="464.42" cy="448.89" r="3.0"/><circle cx="494.77" cy="452.96" r="3.0"/><circle cx="471.59" cy="448.18" r="3.0"/><circle cx="448.5" cy="442.47" r="3.0"/><circle cx="448.05" cy="448.68" r="3.0"/><circle cx="458.79" cy="454.83" r="3.0"/><circle cx="463.09" cy="447.73" r="3.0"/><circle cx="492.33" cy="441.39" r="3.0"/><circle cx="476.6" cy="456.01" r="3.0"/><circle cx="483.76" cy="453.83" r="3.0"/><circle cx="480.29" cy="449.1" r="3.0"/><circle cx="465.03" cy="452.26" r="3.0"/><circle cx="479.23" cy="450.67" r="3.0"/><circle cx="476.75" cy="447.2" r="3.0"/><circle cx="493.37" cy="446.21" r="3.0"/><circle cx="456.55" cy="456.31" r="3.0"/><circle cx="454.12" cy="450.45" r="3.0"/><circle cx="478.63" cy="440.72" r="3.0"/><circle cx="471.8" cy="453.87" r="3.0"/><circle cx="460.76" cy="459.97" r="3.0"/><circle cx="481.03" cy="448.49" r="3.0"/><circle cx="499.17" cy="446.28" r="3.0"/><circle cx="481.35" cy="441.61" r="3.0"/><circle cx="480.67" cy="438.63" r="3.0"/><circle cx="465.78" cy="455.69" r="3.0"/><circle cx="464.63" cy="460.37" r="3.0"/><circle cx="452.94" cy="458.3" r="3.0"/><circle cx="463.48" cy="455.68" r="3.0"/><circle cx="468.27" cy="442.99" r="3.0"/><circle cx="480.32" cy="460.46" r="3.0"/><circle cx="477.68" cy="443.85" r="3.0"/><circle cx="496" cy="455.4" r="3.0"/><circle cx="505.66" cy="467.86" r="3.0"/><circle cx="468.66" cy="457.81" r="3.0"/><circle cx="447.3" cy="456.73" r="3.0"/><circle cx="449.57" cy="451.63" r="3.0"/><circle cx="490.79" cy="448.43" r="3.0"/><circle cx="472.03" cy="444.34" r="3.0"/><circle cx="498.81" cy="450.61" r="3.0"/><circle cx="458.45" cy="452.98" r="3.0"/><circle cx="474.19" cy="465.56" r="3.0"/><circle cx="478.23" cy="451.51" r="3.0"/><circle cx="476.04" cy="449.69" r="3.0"/><circle cx="460.3" cy="449.54" r="3.0"/><circle cx="479.89" cy="455.12" r="3.0"/><circle cx="449.2" cy="463.03" r="3.0"/><circle cx="454.51" cy="458.28" r="3.0"/><circle cx="455.4" cy="450.13" r="3.0"/><circle cx="493.76" cy="448.32" r="3.0"/><circle cx="488.07" cy="450.92" r="3.0"/><circle cx="481.29" cy="450.3" r="3.0"/><circle cx="499.35" cy="444.09" r="3.0"/><circle cx="447.32" cy="455.54" r="3.0"/><circle cx="490.05" cy="450.63" r="3.0"/><circle cx="483.73" cy="443.83" r="3.0"/><circle cx="494.96" cy="449.38" r="3.0"/><circle cx="456.34" cy="469.55" r="3.0"/><circle cx="460.69" cy="463.07" r="3.0"/><circle cx="487.57" cy="454.18" r="3.0"/><circle cx="455.65" cy="457.4" r="3.0"/><circle cx="481.04" cy="454.54" r="3.0"/><circle cx="466.53" cy="460.26" r="3.0"/><circle cx="376.42" cy="434.29" r="3.0"/><circle cx="425.96" cy="453.04" r="3.0"/><circle cx="424.33" cy="452.5" r="3.0"/><circle cx="426.23" cy="446.69" r="3.0"/><circle cx="423.65" cy="453.25" r="3.0"/><circle cx="442.76" cy="455.14" r="3.0"/><circle cx="439.31" cy="461.2" r="3.0"/><circle cx="400.04" cy="442.13" r="3.0"/><circle cx="419.64" cy="449.32" r="3.0"/><circle cx="388.15" cy="429.29" r="3.0"/><circle cx="414.97" cy="450.11" r="3.0"/><circle cx="393.51" cy="445.41" r="3.0"/><circle cx="376.69" cy="442.77" r="3.0"/><circle cx="421.09" cy="454.64" r="3.0"/><circle cx="388.94" cy="434.73" r="3.0"/><circle cx="440.62" cy="456.33" r="3.0"/><circle cx="440.13" cy="456.4" r="3.0"/><circle cx="396.42" cy="432.09" r="3.0"/><circle cx="417.3" cy="441.56" r="3.0"/><circle cx="422.47" cy="446.81" r="3.0"/><circle cx="392.89" cy="435.27" r="3.0"/><circle cx="400.13" cy="445.64" r="3.0"/><circle cx="419.92" cy="458.23" r="3.0"/><circle cx="422.69" cy="449.48" r="3.0"/><circle cx="395.56" cy="444.86" r="3.0"/><circle cx="443.66" cy="453.01" r="3.0"/><circle cx="440.5" cy="457.44" r="3.0"/><circle cx="377.92" cy="434.84" r="3.0"/><circle cx="436.76" cy="451.81" r="3.0"/><circle cx="412.1" cy="448.74" r="3.0"/><circle cx="419.43" cy="458.65" r="3.0"/><circle cx="416.79" cy="452.16" r="3.0"/><circle cx="402.1" cy="447.81" r="3.0"/><circle cx="412.04" cy="436.43" r="3.0"/><circle cx="402.51" cy="456.23" r="3.0"/><circle cx="394.48" cy="446.3" r="3.0"/><circle cx="421.11" cy="449.74" r="3.0"/><circle cx="386.11" cy="447.82" r="3.0"/><circle cx="401.49" cy="443.75" r="3.0"/><circle cx="387.71" cy="439.21" r="3.0"/><circle cx="441.87" cy="462.41" r="3.0"/><circle cx="408.74" cy="442.78" r="3.0"/><circle cx="433.05" cy="448.03" r="3.0"/><circle cx="399.65" cy="440.14" r="3.0"/><circle cx="394.63" cy="445.83" r="3.0"/><circle cx="382.56" cy="435.9" r="3.0"/><circle cx="402.2" cy="446.66" r="3.0"/><circle cx="398.31" cy="448.85" r="3.0"/><circle cx="394.64" cy="434.14" r="3.0"/><circle cx="411.58" cy="450.5" r="3.0"/><circle cx="444.49" cy="456.8" r="3.0"/><circle cx="445.81" cy="457.51" r="3.0"/><circle cx="431.91" cy="463.76" r="3.0"/><circle cx="408.51" cy="446.03" r="3.0"/><circle cx="439.39" cy="454.13" r="3.0"/><circle cx="386.36" cy="436.48" r="3.0"/><circle cx="424.55" cy="455.05" r="3.0"/><circle cx="437.33" cy="454.25" r="3.0"/><circle cx="378.23" cy="430.73" r="3.0"/><circle cx="422.18" cy="448.83" r="3.0"/><circle cx="396.98" cy="448.13" r="3.0"/><circle cx="436.95" cy="451.48" r="3.0"/><circle cx="432.06" cy="463.25" r="3.0"/><circle cx="432.89" cy="451.96" r="3.0"/><circle cx="424.78" cy="460.01" r="3.0"/><circle cx="436.24" cy="461.91" r="3.0"/><circle cx="401.76" cy="442.72" r="3.0"/><circle cx="376.67" cy="439.85" r="3.0"/><circle cx="399.15" cy="447.64" r="3.0"/><circle cx="398.03" cy="444.85" r="3.0"/><circle cx="432.24" cy="446.12" r="3.0"/><circle cx="396.56" cy="438.3" r="3.0"/><circle cx="375.66" cy="437.26" r="3.0"/><circle cx="381.37" cy="445.43" r="3.0"/><circle cx="444.54" cy="452.18" r="3.0"/><circle cx="376.67" cy="436.86" r="3.0"/><circle cx="387.94" cy="451.42" r="3.0"/><circle cx="398.01" cy="449.88" r="3.0"/><circle cx="401.02" cy="436.29" r="3.0"/><circle cx="439.84" cy="457.64" r="3.0"/><circle cx="440.7" cy="462.5" r="3.0"/><circle cx="434.71" cy="452.81" r="3.0"/><circle cx="409.24" cy="446.36" r="3.0"/><circle cx="387.5" cy="440.39" r="3.0"/><circle cx="445.34" cy="449.97" r="3.0"/><circle cx="429.33" cy="440.41" r="3.0"/><circle cx="392.42" cy="437.54" r="3.0"/><circle cx="384.98" cy="431.83" r="3.0"/><circle cx="427.68" cy="451.91" r="3.0"/><circle cx="434.01" cy="450.17" r="3.0"/><circle cx="426.34" cy="450.68" r="3.0"/><circle cx="403.28" cy="448.74" r="3.0"/><circle cx="442.04" cy="453.07" r="3.0"/><circle cx="438.8" cy="461.56" r="3.0"/><circle cx="375.32" cy="435.85" r="3.0"/><circle cx="424.46" cy="455.6" r="3.0"/><circle cx="397.05" cy="449.91" r="3.0"/><circle cx="437.33" cy="455.89" r="3.0"/><circle cx="400.89" cy="444.48" r="3.0"/><circle cx="403.69" cy="444.77" r="3.0"/><circle cx="446.18" cy="448.59" r="3.0"/><circle cx="406.79" cy="440.22" r="3.0"/><circle cx="385.49" cy="447.69" r="3.0"/><circle cx="433.21" cy="452.31" r="3.0"/><circle cx="427.43" cy="451.69" r="3.0"/><circle cx="435.29" cy="450.59" r="3.0"/><circle cx="414.98" cy="456.14" r="3.0"/><circle cx="440.74" cy="449.52" r="3.0"/><circle cx="390.94" cy="451.33" r="3.0"/><circle cx="402.63" cy="448.22" r="3.0"/><circle cx="427.46" cy="454.7" r="3.0"/><circle cx="423.02" cy="458.04" r="3.0"/><circle cx="395.5" cy="443.86" r="3.0"/><circle cx="405.38" cy="442.72" r="3.0"/><circle cx="396.79" cy="446.43" r="3.0"/><circle cx="401.8" cy="438.52" r="3.0"/><circle cx="417.72" cy="454.32" r="3.0"/><circle cx="395.03" cy="447.72" r="3.0"/><circle cx="443.44" cy="458.82" r="3.0"/><circle cx="420.57" cy="444.41" r="3.0"/><circle cx="394.17" cy="436.6" r="3.0"/><circle cx="404.54" cy="448.24" r="3.0"/><circle cx="430.41" cy="460.64" r="3.0"/><circle cx="399.85" cy="448.25" r="3.0"/><circle cx="399.98" cy="439.26" r="3.0"/><circle cx="445.73" cy="455.11" r="3.0"/><circle cx="407.31" cy="453.19" r="3.0"/><circle cx="425.25" cy="450.7" r="3.0"/><circle cx="397.16" cy="433.41" r="3.0"/><circle cx="444.22" cy="451.52" r="3.0"/><circle cx="383.24" cy="444.04" r="3.0"/><circle cx="393.88" cy="449.77" r="3.0"/><circle cx="423.65" cy="454.76" r="3.0"/><circle cx="428.72" cy="457.4" r="3.0"/><circle cx="414.95" cy="455.14" r="3.0"/><circle cx="439.55" cy="457.87" r="3.0"/><circle cx="383.51" cy="434" r="3.0"/><circle cx="381.73" cy="442.36" r="3.0"/><circle cx="423.62" cy="455.24" r="3.0"/><circle cx="427.43" cy="463.44" r="3.0"/><circle cx="437.39" cy="450.21" r="3.0"/><circle cx="383.38" cy="441.28" r="3.0"/><circle cx="441.49" cy="458.46" r="3.0"/><circle cx="378.32" cy="426.52" r="3.0"/><circle cx="427.79" cy="451.64" r="3.0"/><circle cx="394.93" cy="448.99" r="3.0"/><circle cx="385.01" cy="438.57" r="3.0"/><circle cx="444.87" cy="462.44" r="3.0"/><circle cx="417.83" cy="461.99" r="3.0"/><circle cx="435.48" cy="459.8" r="3.0"/><circle cx="386.26" cy="435.59" r="3.0"/><circle cx="419.66" cy="448.44" r="3.0"/><circle cx="421.83" cy="453.05" r="3.0"/><circle cx="432.05" cy="457.27" r="3.0"/><circle cx="400.45" cy="430.82" r="3.0"/><circle cx="397.53" cy="442.13" r="3.0"/><circle cx="376.19" cy="437.51" r="3.0"/><circle cx="418.32" cy="451.42" r="3.0"/><circle cx="397.45" cy="446.08" r="3.0"/><circle cx="390" cy="445.83" r="3.0"/><circle cx="398.38" cy="444.5" r="3.0"/><circle cx="377.1" cy="435.17" r="3.0"/><circle cx="429.07" cy="456.89" r="3.0"/><circle cx="405.72" cy="448.8" r="3.0"/><circle cx="442.57" cy="456.44" r="3.0"/><circle cx="416.82" cy="451.44" r="3.0"/><circle cx="395.61" cy="438.71" r="3.0"/><circle cx="425.56" cy="451.61" r="3.0"/><circle cx="439.1" cy="464.86" r="3.0"/><circle cx="403.57" cy="446.45" r="3.0"/><circle cx="404.51" cy="448.8" r="3.0"/><circle cx="378.5" cy="429.52" r="3.0"/><circle cx="380.81" cy="446.69" r="3.0"/><circle cx="410.86" cy="440.22" r="3.0"/><circle cx="376.04" cy="432.35" r="3.0"/><circle cx="415.2" cy="459.97" r="3.0"/><circle cx="433.38" cy="450.87" r="3.0"/><circle cx="419.86" cy="449.37" r="3.0"/><circle cx="388.76" cy="442.13" r="3.0"/><circle cx="402.34" cy="454.36" r="3.0"/><circle cx="441.95" cy="459.51" r="3.0"/><circle cx="423.88" cy="441.88" r="3.0"/><circle cx="397.82" cy="446.57" r="3.0"/><circle cx="428.18" cy="454.78" r="3.0"/><circle cx="384.87" cy="439.46" r="3.0"/><circle cx="442.6" cy="461.22" r="3.0"/><circle cx="425.42" cy="448.94" r="3.0"/><circle cx="413.43" cy="444.73" r="3.0"/><circle cx="429.08" cy="447.85" r="3.0"/><circle cx="426.51" cy="447.93" r="3.0"/><circle cx="395.64" cy="442.35" r="3.0"/><circle cx="405.45" cy="441.55" r="3.0"/><circle cx="382.96" cy="442.43" r="3.0"/><circle cx="414.94" cy="449.16" r="3.0"/><circle cx="403" cy="449.09" r="3.0"/><circle cx="436.12" cy="459.64" r="3.0"/><circle cx="429.4" cy="464.68" r="3.0"/><circle cx="388.98" cy="431.95" r="3.0"/><circle cx="404.43" cy="452.67" r="3.0"/><circle cx="420.67" cy="450.74" r="3.0"/><circle cx="408.42" cy="444.96" r="3.0"/><circle cx="385.51" cy="439.66" r="3.0"/><circle cx="398.05" cy="447.46" r="3.0"/><circle cx="393.46" cy="445.06" r="3.0"/><circle cx="428.29" cy="451.44" r="3.0"/><circle cx="389.61" cy="441.28" r="3.0"/><circle cx="434.69" cy="458.9" r="3.0"/><circle cx="415.91" cy="448.88" r="3.0"/><circle cx="426.95" cy="457.86" r="3.0"/><circle cx="414.16" cy="448.58" r="3.0"/><circle cx="380.88" cy="440.28" r="3.0"/><circle cx="442.82" cy="450.17" r="3.0"/><circle cx="432.8" cy="463.75" r="3.0"/><circle cx="431.5" cy="453.12" r="3.0"/><circle cx="387.61" cy="444.36" r="3.0"/><circle cx="424.26" cy="460.87" r="3.0"/><circle cx="425.29" cy="455.79" r="3.0"/><circle cx="416.2" cy="441.08" r="3.0"/><circle cx="424.82" cy="443.03" r="3.0"/><circle cx="423.75" cy="442.67" r="3.0"/><circle cx="418.39" cy="454.82" r="3.0"/><circle cx="444.77" cy="448.03" r="3.0"/><circle cx="422.86" cy="453.74" r="3.0"/><circle cx="445.99" cy="447.35" r="3.0"/><circle cx="386.28" cy="439.35" r="3.0"/><circle cx="379.49" cy="440.74" r="3.0"/><circle cx="386.05" cy="435.67" r="3.0"/><circle cx="418.62" cy="453.95" r="3.0"/><circle cx="386.63" cy="441.23" r="3.0"/><circle cx="408.53" cy="450.18" r="3.0"/><circle cx="361.61" cy="421.97" r="3.0"/><circle cx="371.16" cy="428.01" r="3.0"/><circle cx="346.38" cy="419.64" r="3.0"/><circle cx="361.85" cy="422.2" r="3.0"/><circle cx="341.18" cy="416.83" r="3.0"/><circle cx="331.69" cy="399.27" r="3.0"/><circle cx="318.29" cy="397.38" r="3.0"/><circle cx="326.35" cy="402.29" r="3.0"/><circle cx="314.82" cy="395.18" r="3.0"/><circle cx="352.22" cy="416.14" r="3.0"/><circle cx="361.93" cy="422.02" r="3.0"/><circle cx="334.37" cy="407.91" r="3.0"/><circle cx="352.24" cy="424.43" r="3.0"/><circle cx="323.62" cy="402.55" r="3.0"/><circle cx="324.81" cy="398.58" r="3.0"/><circle cx="339.63" cy="412.96" r="3.0"/><circle cx="373.54" cy="429.69" r="3.0"/><circle cx="353.64" cy="420.23" r="3.0"/><circle cx="362.55" cy="419.09" r="3.0"/><circle cx="329.33" cy="400.15" r="3.0"/><circle cx="319.78" cy="393.15" r="3.0"/><circle cx="323.67" cy="407.42" r="3.0"/><circle cx="327.74" cy="410.43" r="3.0"/><circle cx="336.33" cy="406.9" r="3.0"/><circle cx="331.41" cy="400.72" r="3.0"/><circle cx="370.6" cy="427.35" r="3.0"/><circle cx="317.75" cy="393.26" r="3.0"/><circle cx="322.94" cy="395.9" r="3.0"/><circle cx="341.79" cy="411.54" r="3.0"/><circle cx="312.6" cy="399.09" r="3.0"/><circle cx="368.89" cy="431.32" r="3.0"/><circle cx="372.64" cy="433.06" r="3.0"/><circle cx="322.37" cy="402.52" r="3.0"/><circle cx="363.83" cy="421.48" r="3.0"/><circle cx="361.91" cy="421.38" r="3.0"/><circle cx="314.99" cy="396.33" r="3.0"/><circle cx="322.41" cy="395.29" r="3.0"/><circle cx="338.67" cy="412.04" r="3.0"/><circle cx="372.75" cy="428.89" r="3.0"/><circle cx="334.69" cy="412.27" r="3.0"/><circle cx="333.28" cy="410.5" r="3.0"/><circle cx="360.91" cy="428.96" r="3.0"/><circle cx="347.58" cy="415.24" r="3.0"/><circle cx="359.62" cy="424.82" r="3.0"/><circle cx="351.7" cy="415.84" r="3.0"/><circle cx="345.3" cy="413.49" r="3.0"/><circle cx="360.25" cy="420.01" r="3.0"/><circle cx="315.77" cy="394.86" r="3.0"/><circle cx="317.2" cy="397.74" r="3.0"/><circle cx="368.99" cy="426.97" r="3.0"/><circle cx="312.99" cy="391.63" r="3.0"/><circle cx="325.26" cy="402.45" r="3.0"/><circle cx="356.6" cy="420.05" r="3.0"/><circle cx="348.42" cy="415.01" r="3.0"/><circle cx="328.37" cy="404.77" r="3.0"/><circle cx="361.55" cy="424.9" r="3.0"/><circle cx="341.03" cy="416.62" r="3.0"/><circle cx="320.96" cy="395.04" r="3.0"/><circle cx="330.72" cy="401.74" r="3.0"/><circle cx="311.67" cy="398.12" r="3.0"/><circle cx="342.57" cy="411.18" r="3.0"/><circle cx="346.43" cy="413.65" r="3.0"/><circle cx="319.47" cy="391.51" r="3.0"/><circle cx="343.27" cy="418.29" r="3.0"/><circle cx="350.12" cy="415.03" r="3.0"/><circle cx="372.43" cy="424.87" r="3.0"/><circle cx="310.43" cy="392.61" r="3.0"/><circle cx="359.31" cy="426.4" r="3.0"/><circle cx="361.68" cy="420.86" r="3.0"/><circle cx="366.97" cy="426.18" r="3.0"/><circle cx="369.93" cy="422.42" r="3.0"/><circle cx="308.38" cy="391.65" r="3.0"/><circle cx="320.65" cy="388.83" r="3.0"/><circle cx="344.37" cy="416.85" r="3.0"/><circle cx="345.24" cy="416.19" r="3.0"/><circle cx="353.95" cy="419.51" r="3.0"/><circle cx="329.97" cy="407.6" r="3.0"/><circle cx="320.19" cy="395.57" r="3.0"/><circle cx="338.72" cy="402.73" r="3.0"/><circle cx="322.56" cy="397.2" r="3.0"/><circle cx="359.1" cy="419.04" r="3.0"/><circle cx="334.19" cy="408.86" r="3.0"/><circle cx="311.49" cy="395.5" r="3.0"/><circle cx="316.55" cy="402.42" r="3.0"/><circle cx="324.01" cy="397.81" r="3.0"/><circle cx="364.94" cy="427.24" r="3.0"/><circle cx="311.33" cy="392.03" r="3.0"/><circle cx="350.58" cy="425.85" r="3.0"/><circle cx="362.09" cy="422" r="3.0"/><circle cx="347.28" cy="415.94" r="3.0"/><circle cx="357.58" cy="420.23" r="3.0"/><circle cx="325.12" cy="391.9" r="3.0"/><circle cx="370.04" cy="426" r="3.0"/><circle cx="357.18" cy="424.99" r="3.0"/><circle cx="320.69" cy="396.79" r="3.0"/><circle cx="356.9" cy="418.87" r="3.0"/><circle cx="325.12" cy="394.91" r="3.0"/><circle cx="359.46" cy="419.47" r="3.0"/><circle cx="336.66" cy="410.35" r="3.0"/><circle cx="371.04" cy="430.45" r="3.0"/><circle cx="320.12" cy="398.56" r="3.0"/><circle cx="373.64" cy="426.69" r="3.0"/><circle cx="358.53" cy="421.73" r="3.0"/><circle cx="319.36" cy="401.67" r="3.0"/><circle cx="352.03" cy="417.11" r="3.0"/><circle cx="349.78" cy="417.26" r="3.0"/><circle cx="312.29" cy="387.68" r="3.0"/><circle cx="344.25" cy="411.85" r="3.0"/><circle cx="327.7" cy="400.81" r="3.0"/><circle cx="335.86" cy="406.77" r="3.0"/><circle cx="372.68" cy="429.43" r="3.0"/><circle cx="325.37" cy="401.4" r="3.0"/><circle cx="349.95" cy="419.34" r="3.0"/><circle cx="325.3" cy="408.79" r="3.0"/><circle cx="337.14" cy="405.63" r="3.0"/><circle cx="322.21" cy="396.22" r="3.0"/><circle cx="367.93" cy="430.1" r="3.0"/><circle cx="308.7" cy="392.89" r="3.0"/><circle cx="329.54" cy="403.45" r="3.0"/><circle cx="331.31" cy="403.87" r="3.0"/><circle cx="318.84" cy="402.32" r="3.0"/><circle cx="324.77" cy="398.1" r="3.0"/><circle cx="320.19" cy="396.51" r="3.0"/><circle cx="372.03" cy="430.05" r="3.0"/><circle cx="356.61" cy="425.37" r="3.0"/><circle cx="346.47" cy="412.54" r="3.0"/><circle cx="333.27" cy="413.76" r="3.0"/><circle cx="339.78" cy="414.86" r="3.0"/><circle cx="366.89" cy="430.29" r="3.0"/><circle cx="364.6" cy="422.71" r="3.0"/><circle cx="271.5" cy="357.14" r="3.0"/><circle cx="305.97" cy="387.75" r="3.0"/><circle cx="267.27" cy="353.31" r="3.0"/><circle cx="279.1" cy="362.49" r="3.0"/><circle cx="261.63" cy="355.74" r="3.0"/><circle cx="242.19" cy="330.23" r="3.0"/><circle cx="306.65" cy="390.96" r="3.0"/><circle cx="288.06" cy="368.01" r="3.0"/><circle cx="304.98" cy="387.9" r="3.0"/><circle cx="240.12" cy="325.4" r="3.0"/><circle cx="245.74" cy="339.51" r="3.0"/><circle cx="257.89" cy="342.37" r="3.0"/><circle cx="242.66" cy="333.04" r="3.0"/><circle cx="291.61" cy="374.42" r="3.0"/><circle cx="270.97" cy="360.21" r="3.0"/><circle cx="253.44" cy="351.28" r="3.0"/><circle cx="269.33" cy="356.62" r="3.0"/><circle cx="300.73" cy="389.35" r="3.0"/><circle cx="299.66" cy="387.05" r="3.0"/><circle cx="245.53" cy="333.76" r="3.0"/><circle cx="255.45" cy="345.6" r="3.0"/><circle cx="246.69" cy="335.65" r="3.0"/><circle cx="282.66" cy="381.88" r="3.0"/><circle cx="276.55" cy="363.07" r="3.0"/><circle cx="295.25" cy="381.83" r="3.0"/><circle cx="289.71" cy="379.13" r="3.0"/><circle cx="265.82" cy="352.09" r="3.0"/><circle cx="272.33" cy="353.48" r="3.0"/><circle cx="243.46" cy="327.06" r="3.0"/><circle cx="284.24" cy="367.13" r="3.0"/><circle cx="292.17" cy="374.52" r="3.0"/><circle cx="302.22" cy="383.11" r="3.0"/><circle cx="233.57" cy="319.42" r="3.0"/><circle cx="310.34" cy="388.03" r="3.0"/><circle cx="243.05" cy="340.62" r="3.0"/><circle cx="249.14" cy="338.44" r="3.0"/><circle cx="244.7" cy="333.34" r="3.0"/><circle cx="296.04" cy="383.7" r="3.0"/><circle cx="277.38" cy="356.32" r="3.0"/><circle cx="270.73" cy="356.9" r="3.0"/><circle cx="262.1" cy="349.38" r="3.0"/><circle cx="269.16" cy="359.66" r="3.0"/><circle cx="292.73" cy="378.23" r="3.0"/><circle cx="273.24" cy="354.35" r="3.0"/><circle cx="285.92" cy="367.58" r="3.0"/><circle cx="251.94" cy="331.39" r="3.0"/><circle cx="292.32" cy="381.16" r="3.0"/><circle cx="257.48" cy="352.89" r="3.0"/><circle cx="263.21" cy="347.37" r="3.0"/><circle cx="302.98" cy="382.53" r="3.0"/><circle cx="254.84" cy="353.62" r="3.0"/><circle cx="274.99" cy="363.13" r="3.0"/><circle cx="273.04" cy="358.25" r="3.0"/><circle cx="248.53" cy="338.56" r="3.0"/><circle cx="303.1" cy="384.66" r="3.0"/><circle cx="285.66" cy="367.7" r="3.0"/><circle cx="246.1" cy="336.94" r="3.0"/><circle cx="272.3" cy="362.42" r="3.0"/><circle cx="243.36" cy="333.6" r="3.0"/><circle cx="301.5" cy="386.94" r="3.0"/><circle cx="300.4" cy="384.38" r="3.0"/><circle cx="244.25" cy="330.74" r="3.0"/><circle cx="274.91" cy="365.36" r="3.0"/><circle cx="296.29" cy="377.52" r="3.0"/><circle cx="283.76" cy="367.76" r="3.0"/><circle cx="303.1" cy="380.83" r="3.0"/><circle cx="244.87" cy="342.15" r="3.0"/><circle cx="286.44" cy="368" r="3.0"/><circle cx="277.19" cy="365.36" r="3.0"/><circle cx="237.54" cy="323.66" r="3.0"/><circle cx="247.91" cy="340.65" r="3.0"/><circle cx="246.9" cy="338.38" r="3.0"/><circle cx="252.05" cy="340.34" r="3.0"/><circle cx="297.91" cy="379.73" r="3.0"/><circle cx="256.44" cy="346.47" r="3.0"/><circle cx="249.12" cy="341.03" r="3.0"/><circle cx="237.78" cy="321.5" r="3.0"/><circle cx="234.81" cy="324.09" r="3.0"/><circle cx="264.71" cy="354.44" r="3.0"/><circle cx="236.13" cy="324.01" r="3.0"/><circle cx="290.97" cy="380.65" r="3.0"/><circle cx="286.95" cy="371.95" r="3.0"/><circle cx="239.87" cy="328.86" r="3.0"/><circle cx="295.01" cy="383.54" r="3.0"/><circle cx="273.68" cy="370.09" r="3.0"/><circle cx="260.99" cy="348.15" r="3.0"/><circle cx="293.27" cy="376.58" r="3.0"/><circle cx="292.34" cy="384.31" r="3.0"/><circle cx="241.01" cy="339.54" r="3.0"/><circle cx="286.34" cy="373.38" r="3.0"/><circle cx="282.97" cy="378.91" r="3.0"/><circle cx="257.93" cy="348.02" r="3.0"/><circle cx="305.72" cy="383.94" r="3.0"/><circle cx="293.87" cy="385.58" r="3.0"/><circle cx="243.71" cy="324.91" r="3.0"/><circle cx="299.99" cy="383.85" r="3.0"/><circle cx="277.23" cy="371.11" r="3.0"/><circle cx="255.01" cy="347.21" r="3.0"/><circle cx="272.73" cy="356.28" r="3.0"/><circle cx="233.09" cy="327.39" r="3.0"/><circle cx="288.17" cy="371.66" r="3.0"/><circle cx="270.9" cy="353.64" r="3.0"/><circle cx="233.97" cy="317.71" r="3.0"/><circle cx="293.18" cy="378.88" r="3.0"/><circle cx="240.89" cy="331.01" r="3.0"/><circle cx="275.9" cy="363.26" r="3.0"/><circle cx="255.45" cy="348.64" r="3.0"/><circle cx="249.53" cy="340.59" r="3.0"/><circle cx="288.39" cy="373.54" r="3.0"/><circle cx="300" cy="388.92" r="3.0"/><circle cx="247.75" cy="335.59" r="3.0"/><circle cx="261.33" cy="347.56" r="3.0"/><circle cx="306.59" cy="392.62" r="3.0"/><circle cx="277.48" cy="357.25" r="3.0"/><circle cx="254.09" cy="351.47" r="3.0"/><circle cx="274.3" cy="363.92" r="3.0"/><circle cx="275.59" cy="369.04" r="3.0"/><circle cx="264.56" cy="352.29" r="3.0"/><circle cx="250.48" cy="329.2" r="3.0"/><circle cx="241.87" cy="332.08" r="3.0"/><circle cx="305.74" cy="385.24" r="3.0"/><circle cx="273.76" cy="369.25" r="3.0"/><circle cx="301.94" cy="387.98" r="3.0"/><circle cx="303.63" cy="395.43" r="3.0"/><circle cx="240.16" cy="333.17" r="3.0"/><circle cx="301.81" cy="382.93" r="3.0"/><circle cx="293.42" cy="377.04" r="3.0"/><circle cx="240.83" cy="330.62" r="3.0"/><circle cx="282.77" cy="374.43" r="3.0"/><circle cx="304.05" cy="391.77" r="3.0"/><circle cx="188.65" cy="263.16" r="3.0"/><circle cx="202.65" cy="295.32" r="3.0"/><circle cx="196.21" cy="277.33" r="3.0"/><circle cx="222.31" cy="307.5" r="3.0"/><circle cx="182.7" cy="252.82" r="3.0"/><circle cx="196.11" cy="267.31" r="3.0"/><circle cx="188.97" cy="268.7" r="3.0"/><circle cx="222.03" cy="309.39" r="3.0"/><circle cx="205.65" cy="295.15" r="3.0"/><circle cx="192.82" cy="275.51" r="3.0"/><circle cx="223.67" cy="320.34" r="3.0"/><circle cx="187.65" cy="276.06" r="3.0"/><circle cx="222.3" cy="296.13" r="3.0"/><circle cx="212.56" cy="299.7" r="3.0"/><circle cx="189.83" cy="264.26" r="3.0"/><circle cx="207.64" cy="299.54" r="3.0"/><circle cx="194.24" cy="274.8" r="3.0"/><circle cx="193.42" cy="285.54" r="3.0"/><circle cx="195.51" cy="277.5" r="3.0"/><circle cx="187.55" cy="262.27" r="3.0"/><circle cx="194.96" cy="268.72" r="3.0"/><circle cx="196.72" cy="279" r="3.0"/><circle cx="219.43" cy="302.25" r="3.0"/><circle cx="202.26" cy="289.52" r="3.0"/><circle cx="205.63" cy="285.75" r="3.0"/><circle cx="186.91" cy="265.45" r="3.0"/><circle cx="199.28" cy="285.57" r="3.0"/><circle cx="184.63" cy="263.73" r="3.0"/><circle cx="223.14" cy="305.88" r="3.0"/><circle cx="207.2" cy="281" r="3.0"/><circle cx="218.03" cy="310.41" r="3.0"/><circle cx="209.21" cy="284.8" r="3.0"/><circle cx="219.22" cy="317.31" r="3.0"/><circle cx="220.25" cy="305.93" r="3.0"/><circle cx="214.43" cy="295.56" r="3.0"/><circle cx="191.63" cy="268.65" r="3.0"/><circle cx="179" cy="255.76" r="3.0"/><circle cx="199.47" cy="276.72" r="3.0"/><circle cx="221.79" cy="311.85" r="3.0"/><circle cx="195.03" cy="263.06" r="3.0"/><circle cx="190.55" cy="268.31" r="3.0"/><circle cx="222.71" cy="300.91" r="3.0"/><circle cx="222.3" cy="307.69" r="3.0"/><circle cx="204.98" cy="278.76" r="3.0"/><circle cx="196.54" cy="277.1" r="3.0"/><circle cx="181.91" cy="249.6" r="3.0"/><circle cx="198.76" cy="274.94" r="3.0"/><circle cx="215.13" cy="291.3" r="3.0"/><circle cx="211.29" cy="292.92" r="3.0"/><circle cx="184.23" cy="251.9" r="3.0"/><circle cx="178.23" cy="251.39" r="3.0"/><circle cx="190.98" cy="250.65" r="3.0"/><circle cx="206.76" cy="284.74" r="3.0"/><circle cx="186.2" cy="259.39" r="3.0"/><circle cx="192.97" cy="253.38" r="3.0"/><circle cx="225.5" cy="317.78" r="3.0"/><circle cx="207.63" cy="288.96" r="3.0"/><circle cx="215.3" cy="302.27" r="3.0"/><circle cx="194.31" cy="266.84" r="3.0"/><circle cx="198.96" cy="270.51" r="3.0"/><circle cx="192.61" cy="267.77" r="3.0"/><circle cx="224.17" cy="307.38" r="3.0"/><circle cx="182.4" cy="262.54" r="3.0"/><circle cx="196.04" cy="275.84" r="3.0"/><circle cx="214.8" cy="296.73" r="3.0"/><circle cx="219.63" cy="303.14" r="3.0"/><circle cx="217.18" cy="295.73" r="3.0"/><circle cx="189.21" cy="261.89" r="3.0"/><circle cx="196.54" cy="266.72" r="3.0"/><circle cx="187.74" cy="253.11" r="3.0"/><circle cx="183.76" cy="265.25" r="3.0"/><circle cx="190.45" cy="258.51" r="3.0"/><circle cx="188.76" cy="254.39" r="3.0"/><circle cx="182.6" cy="256.6" r="3.0"/><circle cx="195.25" cy="276.35" r="3.0"/><circle cx="211.56" cy="300.64" r="3.0"/><circle cx="214.62" cy="295.15" r="3.0"/><circle cx="184.68" cy="265.57" r="3.0"/><circle cx="191.87" cy="268.78" r="3.0"/><circle cx="221.21" cy="299.65" r="3.0"/><circle cx="204.44" cy="278.92" r="3.0"/><circle cx="216.16" cy="286.46" r="3.0"/><circle cx="207.34" cy="275.93" r="3.0"/><circle cx="215.54" cy="289.08" r="3.0"/><circle cx="214.11" cy="296.04" r="3.0"/><circle cx="188.45" cy="271.34" r="3.0"/><circle cx="180.62" cy="251.04" r="3.0"/><circle cx="196.76" cy="272.38" r="3.0"/><circle cx="227.77" cy="312.61" r="3.0"/><circle cx="192.03" cy="274.65" r="3.0"/><circle cx="186.02" cy="263.37" r="3.0"/><circle cx="192.24" cy="267.16" r="3.0"/><circle cx="206.01" cy="291.47" r="3.0"/><circle cx="196.11" cy="271.94" r="3.0"/><circle cx="192.2" cy="271.19" r="3.0"/><circle cx="206.18" cy="279.44" r="3.0"/><circle cx="182.57" cy="253.02" r="3.0"/><circle cx="202.95" cy="274.33" r="3.0"/><circle cx="182.07" cy="255.77" r="3.0"/><circle cx="178.49" cy="252.22" r="3.0"/><circle cx="224.32" cy="310.97" r="3.0"/><circle cx="187.12" cy="264.97" r="3.0"/><circle cx="180.77" cy="254.86" r="3.0"/><circle cx="218.93" cy="301.96" r="3.0"/><circle cx="225.65" cy="311.86" r="3.0"/><circle cx="201.69" cy="287.97" r="3.0"/><circle cx="193.51" cy="274.58" r="3.0"/><circle cx="180.54" cy="257.5" r="3.0"/><circle cx="173.84" cy="259.05" r="3.0"/><circle cx="188.78" cy="254.09" r="3.0"/><circle cx="449.2" cy="217.4" r="3.0"/><circle cx="540.4" cy="299.1" r="3.0"/><circle cx="509.3" cy="308.1" r="3.0"/><circle cx="510.5" cy="318.9" r="3.0"/><circle cx="520.2" cy="321.2" r="3.0"/><circle cx="495.6" cy="319.8" r="3.0"/><circle cx="493.9" cy="324.2" r="3.0"/><circle cx="505.8" cy="324.2" r="3.0"/><circle cx="496.5" cy="329.5" r="3.0"/><circle cx="524.6" cy="333" r="3.0"/><circle cx="516.7" cy="334.7" r="3.0"/><circle cx="498.2" cy="335.3" r="3.0"/><circle cx="521" cy="339.1" r="3.0"/><circle cx="526.3" cy="344.4" r="3.0"/><circle cx="527.2" cy="347" r="3.0"/><circle cx="524.6" cy="351.4" r="3.0"/><circle cx="493.9" cy="353.2" r="3.0"/><circle cx="500.9" cy="356.7" r="3.0"/><circle cx="524.6" cy="360.2" r="3.0"/><circle cx="530.4" cy="371.2" r="3.0"/><circle cx="521" cy="369.8" r="3.0"/><circle cx="520.2" cy="379.5" r="3.0"/><circle cx="524.6" cy="385.6" r="3.0"/><circle cx="496.5" cy="384.7" r="3.0"/><circle cx="463.3" cy="414.4" r="3.0"/><circle cx="473.9" cy="417.4" r="3.0"/><circle cx="480.9" cy="413.9" r="3.0"/><circle cx="485.3" cy="410.4" r="3.0"/><circle cx="491.4" cy="406.8" r="3.0"/><circle cx="496.7" cy="384.9" r="3.0"/><circle cx="501.9" cy="394.6" r="3.0"/><circle cx="520.4" cy="378.8" r="3.0"/><circle cx="524.7" cy="386.7" r="3.0"/><circle cx="527.4" cy="391.9" r="3.0"/><circle cx="523" cy="402.5" r="3.0"/><circle cx="527.4" cy="421.8" r="3.0"/><circle cx="523" cy="445.8" r="3.0"/><circle cx="520.4" cy="456" r="3.0"/><circle cx="516" cy="449.8" r="3.0"/><circle cx="509.8" cy="461.2" r="3.0"/><circle cx="497.5" cy="465.6" r="3.0"/><circle cx="487.9" cy="463" r="3.0"/><circle cx="549.3" cy="453.9" r="3.0"/><circle cx="398.6" cy="459.3" r="3.0"/><circle cx="406" cy="466.8" r="3.0"/><circle cx="412.1" cy="464.6" r="3.0"/><circle cx="420.5" cy="465.4" r="3.0"/><circle cx="428.1" cy="464.6" r="3.0"/><circle cx="432.3" cy="473.7" r="3.0"/><circle cx="440.7" cy="472.5" r="3.0"/><circle cx="442.5" cy="479.5" r="3.0"/><circle cx="407.4" cy="438.8" r="3.0"/><circle cx="388.1" cy="433" r="3.0"/><circle cx="301.4" cy="401.6" r="3.0"/><circle cx="303.2" cy="410.4" r="3.0"/><circle cx="306.1" cy="417.7" r="3.0"/><circle cx="311.4" cy="422.6" r="3.0"/><circle cx="310.2" cy="409.5" r="3.0"/><circle cx="329.5" cy="392.5" r="3.0"/><circle cx="326.8" cy="415.3" r="3.0"/><circle cx="332.1" cy="423" r="3.0"/><circle cx="340.9" cy="407.2" r="3.0"/><circle cx="338.2" cy="420.9" r="3.0"/><circle cx="342.3" cy="432.3" r="3.0"/><circle cx="340.9" cy="428.2" r="3.0"/><circle cx="358.4" cy="435.8" r="3.0"/><circle cx="366" cy="448.6" r="3.0"/><circle cx="384.7" cy="448.1" r="3.0"/><circle cx="371.6" cy="440.2" r="3.0"/><circle cx="251.9" cy="350.7" r="3.0"/><circle cx="258.9" cy="353.9" r="3.0"/><circle cx="269.5" cy="348.2" r="3.0"/><circle cx="291.4" cy="367.9" r="3.0"/><circle cx="297.5" cy="374.9" r="3.0"/><circle cx="283.5" cy="381.9" r="3.0"/><circle cx="290.5" cy="391.1" r="3.0"/><circle cx="300.2" cy="401.2" r="3.0"/><circle cx="200.2" cy="250.9" r="3.0"/><circle cx="190.7" cy="247.9" r="3.0"/><circle cx="177" cy="261" r="3.0"/><circle cx="179.6" cy="266.3" r="3.0"/><circle cx="191" cy="276" r="3.0"/><circle cx="190.2" cy="287.7" r="3.0"/><circle cx="220.9" cy="285.3" r="3.0"/><circle cx="193.7" cy="295.3" r="3.0"/><circle cx="198.1" cy="296.1" r="3.0"/><circle cx="200.2" cy="303.2" r="3.0"/><circle cx="220.9" cy="294.4" r="3.0"/><circle cx="241.1" cy="319.3" r="3.0"/><circle cx="251.6" cy="327.7" r="3.0"/><circle cx="255.4" cy="335.6" r="3.0"/><circle cx="137.9" cy="175.2" r="3.0"/><circle cx="143.2" cy="178.2" r="3.0"/><circle cx="143.2" cy="178.4" r="3.0"/><circle cx="151.4" cy="176.1" r="3.0"/><circle cx="144.9" cy="185.7" r="3.0"/><circle cx="146.7" cy="188.7" r="3.0"/><circle cx="156.3" cy="187.3" r="3.0"/><circle cx="147.5" cy="196.6" r="3.0"/><circle cx="149.6" cy="202.7" r="3.0"/><circle cx="156.3" cy="202.7" r="3.0"/><circle cx="154.6" cy="206.2" r="3.0"/><circle cx="163.3" cy="211" r="3.0"/><circle cx="155.4" cy="214.1" r="3.0"/><circle cx="160.2" cy="216.8" r="3.0"/><circle cx="164.2" cy="216.8" r="3.0"/><circle cx="163.3" cy="226.4" r="3.0"/><circle cx="166" cy="230.8" r="3.0"/><circle cx="173.9" cy="231.7" r="3.0"/><circle cx="169.5" cy="242.2" r="3.0"/><circle cx="175.6" cy="238.7" r="3.0"/><circle cx="185.3" cy="237.8" r="3.0"/><circle cx="179.1" cy="242.2" r="3.0"/><circle cx="182.6" cy="247.5" r="3.0"/><circle cx="169.5" cy="254.5" r="3.0"/><circle cx="184.4" cy="254.5" r="3.0"/><circle cx="191.4" cy="256.2" r="3.0"/><circle cx="187.9" cy="260.6" r="3.0"/></g>
<path d="M244.06,334.08L241.1,330.88L238.16,327.66L235.25,324.41L232.37,321.15L229.51,317.86L226.69,314.56L223.89,311.24L221.13,307.9L218.39,304.55L215.69,301.18L213.03,297.8L210.4,294.41L207.8,291L205.24,287.59L202.72,284.17L200.23,280.74L197.78,277.3L195.37,273.86L193,270.41L190.68,266.95L188.39,263.5L186.14,260.04L183.94,256.58L181.78,253.13L179.66,249.67L177.59,246.22L175.57,242.77L173.59,239.32L171.65,235.88L169.77,232.45L167.93,229.02L166.14,225.6L164.4,222.2L162.7,218.8L161.06,215.41L159.47,212.04L157.92,208.68L156.43,205.34L154.99,202.01L153.61,198.7L152.27,195.41L150.99,192.14L149.76,188.89L148.59,185.65L147.46,182.44L146.4,179.26L145.39,176.09L144.43,172.95L143.53,169.84L142.68,166.75L141.89,163.7L141.16,160.67L140.48,157.67L139.86,154.7L139.29,151.76L138.79,148.85L138.34,145.98L137.94,143.14L137.61,140.33L137.33,137.57L137.11,134.83L136.94,132.14L136.84,129.48L136.79,126.87L136.8,124.29L136.86,121.75L136.99,119.26L137.17,116.8L137.41,114.39L137.7,112.03L138.06,109.7L138.47,107.43L138.94,105.2L139.46,103.01L140.05,100.87L140.68,98.78L141.38,96.74L142.13,94.75L142.94,92.81L143.8,90.91L144.72,89.07L145.69,87.28L146.72,85.54L147.81,83.86L148.94,82.22L150.14,80.64L151.38,79.12L152.68,77.64L154.03,76.23L155.43,74.87L156.89,73.56L158.4,72.31L159.96,71.12L161.56,69.98L163.22,68.9L164.93,67.88L166.69,66.92L168.49,66.01L170.35,65.16L172.25,64.37L174.2,63.64L176.19,62.97L178.23,62.36L180.32,61.81L182.45,61.32L184.62,60.88L186.84,60.51L189.09,60.2L191.39,59.95L193.73,59.75L196.12,59.62L198.54,59.55L201,59.54L203.5,59.59L206.03,59.7L208.6,59.87L211.21,60.1L213.85,60.39L216.53,60.74L219.24,61.15L221.98,61.62L224.76,62.15L227.56,62.74L230.4,63.38L233.26,64.09L236.15,64.86L239.07,65.68L242.02,66.57L244.99,67.51L247.99,68.51L251.01,69.57L254.05,70.68L257.11,71.86L260.2,73.08L263.31,74.37L266.43,75.71L269.57,77.11L272.73,78.56L275.91,80.06L279.1,81.62L282.31,83.24L285.53,84.9L288.76,86.62L292,88.39L295.26,90.22L298.52,92.09L301.79,94.01L305.07,95.99L308.35,98.01L311.64,100.08L314.94,102.2L318.23,104.37L321.54,106.59L324.84,108.85L328.14,111.15L331.44,113.5L334.74,115.89L338.04,118.33L341.33,120.81L344.62,123.33L347.9,125.9L351.18,128.5L354.45,131.14L357.71,133.82L360.96,136.54L364.2,139.29L367.42,142.08L370.64,144.91L373.84,147.77L377.03,150.66L380.2,153.59L383.36,156.55L386.49,159.54L389.61,162.56L392.71,165.6L395.79,168.68L398.85,171.78L401.89,174.91L404.9,178.07L407.89,181.24L410.85,184.45L413.79,187.67L416.7,190.92L419.58,194.18L422.44,197.47L425.26,200.77L428.06,204.09L430.82,207.43L433.56,210.78L436.26,214.15L438.92,217.53L441.55,220.92L444.15,224.32L446.71,227.74L449.24,231.16L451.72,234.59L454.17,238.03L456.58,241.47L458.95,244.92L461.28,248.37L463.56,251.83L465.81,255.29L468.01,258.74L470.17,262.2L472.29,265.66L474.36,269.11L476.38,272.56L478.36,276.01L480.3,279.45L482.18,282.88L484.02,286.31L485.81,289.72L487.56,293.13L489.25,296.53L490.89,299.91L492.48,303.29L494.03,306.64L495.52,309.99L496.96,313.31L498.34,316.62L499.68,319.92L500.96,323.19L502.19,326.44L503.37,329.67L504.49,332.88L505.55,336.07L506.56,339.24L507.52,342.37L508.42,345.49L509.27,348.57L510.06,351.63L510.79,354.66L511.47,357.66L512.09,360.63L512.66,363.57L513.16,366.48L513.62,369.35L514.01,372.19L514.35,374.99L514.62,377.76L514.85,380.49L515.01,383.19L515.12,385.84L515.16,388.46L515.16,391.04L515.09,393.58L514.96,396.07L514.78,398.52L514.54,400.93L514.25,403.3L513.89,405.62L513.48,407.9L513.01,410.13L512.49,412.32L511.91,414.45L511.27,416.54L510.57,418.59L509.82,420.58L509.01,422.52L508.15,424.41L507.23,426.26L506.26,428.05L505.23,429.79L504.14,431.47L503.01,433.11L501.81,434.69L500.57,436.21L499.27,437.68L497.92,439.1L496.52,440.46L495.06,441.77L493.55,443.02L492,444.21L490.39,445.35L488.73,446.43L487.02,447.45L485.26,448.41L483.46,449.32L481.6,450.17L479.7,450.95L477.75,451.68L475.76,452.36L473.72,452.97L471.63,453.52L469.51,454.01L467.33,454.44L465.12,454.82L462.86,455.13L460.56,455.38L458.22,455.57L455.83,455.71L453.41,455.78L450.95,455.79L448.46,455.74L445.92,455.63L443.35,455.46L440.74,455.23L438.1,454.94L435.42,454.59L432.71,454.18L429.97,453.71L427.2,453.18L424.39,452.59L421.56,451.94L418.69,451.24L415.8,450.47L412.88,449.64L409.93,448.76L406.96,447.82L403.97,446.82L400.95,445.76L397.9,444.64L394.84,443.47L391.75,442.24L388.65,440.96L385.52,439.62L382.38,438.22L379.22,436.77L376.04,435.26L372.85,433.7L369.64,432.09L366.42,430.42L363.19,428.71L359.95,426.93L356.7,425.11L353.43,423.24L350.16,421.31L346.88,419.34L343.6,417.32L340.31,415.24L337.01,413.12L333.72,410.96L330.42,408.74L327.11,406.48L323.81,404.18L320.51,401.83L317.21,399.43L313.91,397L310.62,394.52L307.33,391.99L304.05,389.43L300.77,386.83L297.5,384.19L294.24,381.51L290.99,378.79L287.75,376.04L284.53,373.24L281.31,370.42L278.11,367.56L274.92,364.66L271.75,361.74L268.6,358.78L265.46,355.79L262.34,352.77L259.24,349.72L256.16,346.65L253.1,343.55L250.07,340.42L247.05,337.26L244.06,334.08Z" stroke="#000" stroke-width="2.08" fill="none" stroke-linejoin="round"/>
<path d="M303.1,300.9H330.9M317,287V314.8" stroke="#000" stroke-width="1.6" fill="none"/>
<rect x="294.7" y="380.7" width="11.4" height="11.4" fill="#00bfbf" stroke="#000" stroke-width="1.39"/>
<text x="313.6" y="91" font-size="13.89" font-family="DejaVu Sans, Liberation Sans, sans-serif">1718</text>
<text x="455.7" y="213.2" font-size="13.89" font-family="DejaVu Sans, Liberation Sans, sans-serif">1778</text>
<text x="88.2" y="179" font-size="13.89" font-family="DejaVu Sans, Liberation Sans, sans-serif">2020</text>
<text x="110.95" y="109.9" font-size="20.83" font-family="DejaVu Sans, Liberation Sans, sans-serif">Ω</text>
<text x="270.6" y="412.9" font-size="22.22" font-family="DejaVu Sans, Liberation Sans, sans-serif">P</text>
<text x="547.7" y="51.8" font-size="17.5" font-family="DejaVu Sans, Liberation Sans, sans-serif">N</text>
<text x="474.6" y="123" font-size="17.5" font-family="DejaVu Sans, Liberation Sans, sans-serif">E</text>
<path d="M553.3,117.4V67.5M553.3,117.4H499.5" stroke="#000" stroke-width="1.3" fill="none"/>
<path d="M553.4,60.4L559.7,71.7L553.4,67.5L547.1,71.7Z" fill="#1f77b4" stroke="#000" stroke-width=".7" stroke-linejoin="miter"/>
<path d="M492.3,117.5L504.3,112.2L499.3,117.5L504.3,123.3Z" fill="#1f77b4" stroke="#000" stroke-width=".7" stroke-linejoin="miter"/>
<rect x="65.5" y="15.5" width="529" height="496" fill="none" stroke="#000" stroke-width="1.11" stroke-linecap="square"/>
<path d="M73.5,511.5v4.86M154.5,511.5v4.86M236.5,511.5v4.86M317.5,511.5v4.86M399.5,511.5v4.86M480.5,511.5v4.86M561.5,511.5v4.86M65.5,72.5h-4.86M65.5,148.5h-4.86M65.5,225.5h-4.86M65.5,301.5h-4.86M65.5,378.5h-4.86M65.5,454.5h-4.86" stroke="#000" stroke-width="1.11" fill="none"/>
<text x="73.5" y="532" font-size="13.89" text-anchor="middle" font-family="DejaVu Sans, Liberation Sans, sans-serif">6</text>
<text x="154.5" y="532" font-size="13.89" text-anchor="middle" font-family="DejaVu Sans, Liberation Sans, sans-serif">4</text>
<text x="236.5" y="532" font-size="13.89" text-anchor="middle" font-family="DejaVu Sans, Liberation Sans, sans-serif">2</text>
<text x="317.5" y="532" font-size="13.89" text-anchor="middle" font-family="DejaVu Sans, Liberation Sans, sans-serif">0</text>
<text x="399.5" y="532" font-size="13.89" text-anchor="middle" font-family="DejaVu Sans, Liberation Sans, sans-serif">−2</text>
<text x="480.5" y="532" font-size="13.89" text-anchor="middle" font-family="DejaVu Sans, Liberation Sans, sans-serif">−4</text>
<text x="561.5" y="532" font-size="13.89" text-anchor="middle" font-family="DejaVu Sans, Liberation Sans, sans-serif">−6</text>
<text x="55.2" y="77.8" font-size="13.89" text-anchor="end" font-family="DejaVu Sans, Liberation Sans, sans-serif">6</text>
<text x="55.2" y="153.8" font-size="13.89" text-anchor="end" font-family="DejaVu Sans, Liberation Sans, sans-serif">4</text>
<text x="55.2" y="230.8" font-size="13.89" text-anchor="end" font-family="DejaVu Sans, Liberation Sans, sans-serif">2</text>
<text x="55.2" y="306.8" font-size="13.89" text-anchor="end" font-family="DejaVu Sans, Liberation Sans, sans-serif">0</text>
<text x="55.2" y="383.8" font-size="13.89" text-anchor="end" font-family="DejaVu Sans, Liberation Sans, sans-serif">−2</text>
<text x="55.2" y="459.8" font-size="13.89" text-anchor="end" font-family="DejaVu Sans, Liberation Sans, sans-serif">−4</text>
<text x="330" y="558.3" font-size="20.83" text-anchor="middle" font-family="DejaVu Sans, Liberation Sans, sans-serif">Δ<tspan font-style="italic">α</tspan> (arcsec)</text>
<text transform="translate(23,263.5) rotate(-90)" x="0" y="0" font-size="20.83" text-anchor="middle" font-family="DejaVu Sans, Liberation Sans, sans-serif">Δ<tspan font-style="italic">δ</tspan> (arcsec)</text>
</svg></body></html>
